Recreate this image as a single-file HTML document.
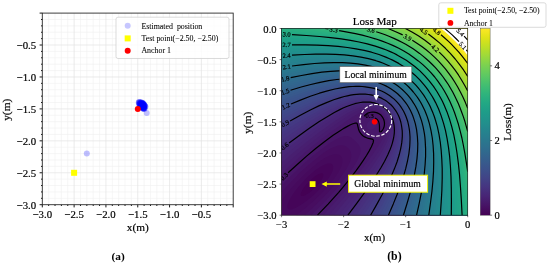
<!DOCTYPE html>
<html lang="en"><head><meta charset="utf-8"><title>Loss Map figure</title>
<style>html,body{margin:0;padding:0;background:#fff}body{width:550px;height:264px;overflow:hidden}svg{display:block}</style></head>
<body>
<svg width="550" height="264" viewBox="0 0 550 264" style="display:block">
<style>text{stroke:#000;stroke-width:0.18px}.lg text{stroke-width:0.06px}</style>
<rect x="0" y="0" width="550" height="264" fill="#ffffff"/>
<g id="left-plot">
<path d="M48.66,13.1V204.7M42.3,198.31H233.2M55.03,13.1V204.7M42.3,191.93H233.2M61.39,13.1V204.7M42.3,185.54H233.2M67.75,13.1V204.7M42.3,179.15H233.2M80.48,13.1V204.7M42.3,166.38H233.2M86.84,13.1V204.7M42.3,159.99H233.2M93.21,13.1V204.7M42.3,153.61H233.2M99.57,13.1V204.7M42.3,147.22H233.2M112.30,13.1V204.7M42.3,134.45H233.2M118.66,13.1V204.7M42.3,128.06H233.2M125.02,13.1V204.7M42.3,121.67H233.2M131.39,13.1V204.7M42.3,115.29H233.2M144.11,13.1V204.7M42.3,102.51H233.2M150.48,13.1V204.7M42.3,96.13H233.2M156.84,13.1V204.7M42.3,89.74H233.2M163.20,13.1V204.7M42.3,83.35H233.2M175.93,13.1V204.7M42.3,70.58H233.2M182.29,13.1V204.7M42.3,64.19H233.2M188.66,13.1V204.7M42.3,57.81H233.2M195.02,13.1V204.7M42.3,51.42H233.2M207.75,13.1V204.7M42.3,38.65H233.2M214.11,13.1V204.7M42.3,32.26H233.2M220.47,13.1V204.7M42.3,25.87H233.2M226.84,13.1V204.7M42.3,19.49H233.2" stroke="#f0f0f0" stroke-width="0.6" fill="none"/>
<path d="M74.12,13.1V204.7M42.3,172.77H233.2M105.93,13.1V204.7M42.3,140.83H233.2M137.75,13.1V204.7M42.3,108.90H233.2M169.57,13.1V204.7M42.3,76.97H233.2M201.38,13.1V204.7M42.3,45.03H233.2" stroke="#e2e2e2" stroke-width="0.7" fill="none"/>
<circle cx="86.8" cy="153.6" r="3" fill="#0000ff" fill-opacity="0.25"/>
<circle cx="146.7" cy="113.1" r="3" fill="#0000ff" fill-opacity="0.25"/>
<circle cx="145.1" cy="106.5" r="3" fill="#0000ff" fill-opacity="0.25"/>
<circle cx="141.5" cy="106.2" r="3" fill="#0000ff" fill-opacity="0.25"/>
<circle cx="138.7" cy="102.8" r="3" fill="#0000ff" fill-opacity="0.25"/>
<circle cx="140.0" cy="106.3" r="3" fill="#0000ff" fill-opacity="0.25"/>
<circle cx="142.3" cy="107.3" r="3" fill="#0000ff" fill-opacity="0.25"/>
<circle cx="143.1" cy="103.5" r="3" fill="#0000ff" fill-opacity="0.25"/>
<circle cx="141.3" cy="104.7" r="3" fill="#0000ff" fill-opacity="0.25"/>
<circle cx="141.9" cy="108.0" r="3" fill="#0000ff" fill-opacity="0.25"/>
<circle cx="141.7" cy="106.6" r="3" fill="#0000ff" fill-opacity="0.25"/>
<circle cx="144.5" cy="105.5" r="3" fill="#0000ff" fill-opacity="0.25"/>
<circle cx="141.5" cy="102.4" r="3" fill="#0000ff" fill-opacity="0.25"/>
<circle cx="141.9" cy="105.7" r="3" fill="#0000ff" fill-opacity="0.25"/>
<circle cx="139.5" cy="104.0" r="3" fill="#0000ff" fill-opacity="0.25"/>
<circle cx="143.6" cy="108.1" r="3" fill="#0000ff" fill-opacity="0.25"/>
<circle cx="140.3" cy="102.4" r="3" fill="#0000ff" fill-opacity="0.25"/>
<circle cx="142.7" cy="104.2" r="3" fill="#0000ff" fill-opacity="0.25"/>
<circle cx="139.7" cy="104.2" r="3" fill="#0000ff" fill-opacity="0.25"/>
<circle cx="144.1" cy="107.5" r="3" fill="#0000ff" fill-opacity="0.25"/>
<circle cx="141.3" cy="106.3" r="3" fill="#0000ff" fill-opacity="0.25"/>
<circle cx="142.6" cy="103.1" r="3" fill="#0000ff" fill-opacity="0.25"/>
<circle cx="142.8" cy="103.4" r="3" fill="#0000ff" fill-opacity="0.25"/>
<circle cx="141.6" cy="106.7" r="3" fill="#0000ff" fill-opacity="0.25"/>
<circle cx="144.3" cy="106.5" r="3" fill="#0000ff" fill-opacity="0.25"/>
<circle cx="143.2" cy="106.8" r="3" fill="#0000ff" fill-opacity="0.25"/>
<circle cx="140.6" cy="103.1" r="3" fill="#0000ff" fill-opacity="0.25"/>
<circle cx="140.0" cy="102.2" r="3" fill="#0000ff" fill-opacity="0.25"/>
<circle cx="142.6" cy="106.8" r="3" fill="#0000ff" fill-opacity="0.25"/>
<circle cx="143.1" cy="108.4" r="3" fill="#0000ff" fill-opacity="0.25"/>
<circle cx="142.3" cy="103.8" r="3" fill="#0000ff" fill-opacity="0.25"/>
<circle cx="141.9" cy="104.0" r="3" fill="#0000ff" fill-opacity="0.25"/>
<circle cx="144.2" cy="104.8" r="3" fill="#0000ff" fill-opacity="0.25"/>
<circle cx="143.1" cy="108.6" r="3" fill="#0000ff" fill-opacity="0.25"/>
<circle cx="144.6" cy="105.8" r="3" fill="#0000ff" fill-opacity="0.25"/>
<circle cx="141.6" cy="104.6" r="3" fill="#0000ff" fill-opacity="0.25"/>
<circle cx="143.4" cy="103.9" r="3" fill="#0000ff" fill-opacity="0.25"/>
<circle cx="140.5" cy="104.5" r="3" fill="#0000ff" fill-opacity="0.25"/>
<circle cx="144.3" cy="105.0" r="3" fill="#0000ff" fill-opacity="0.25"/>
<circle cx="144.4" cy="108.9" r="3" fill="#0000ff" fill-opacity="0.25"/>
<circle cx="143.2" cy="108.7" r="3" fill="#0000ff" fill-opacity="0.25"/>
<circle cx="140.1" cy="106.2" r="3" fill="#0000ff" fill-opacity="0.25"/>
<circle cx="145.5" cy="106.8" r="3" fill="#0000ff" fill-opacity="0.25"/>
<circle cx="139.7" cy="102.9" r="3" fill="#0000ff" fill-opacity="0.25"/>
<circle cx="140.4" cy="103.8" r="3" fill="#0000ff" fill-opacity="0.25"/>
<circle cx="141.2" cy="107.1" r="3" fill="#0000ff" fill-opacity="0.25"/>
<circle cx="143.8" cy="108.6" r="3" fill="#0000ff" fill-opacity="0.25"/>
<circle cx="140.3" cy="106.5" r="3" fill="#0000ff" fill-opacity="0.25"/>
<circle cx="142.4" cy="103.0" r="3" fill="#0000ff" fill-opacity="0.25"/>
<circle cx="144.6" cy="108.2" r="3" fill="#0000ff" fill-opacity="0.25"/>
<circle cx="142.3" cy="104.6" r="3" fill="#0000ff" fill-opacity="0.25"/>
<circle cx="144.0" cy="108.4" r="3" fill="#0000ff" fill-opacity="0.25"/>
<circle cx="143.7" cy="107.8" r="3" fill="#0000ff" fill-opacity="0.25"/>
<circle cx="143.5" cy="105.3" r="3" fill="#0000ff" fill-opacity="0.25"/>
<circle cx="142.7" cy="104.9" r="3" fill="#0000ff" fill-opacity="0.25"/>
<circle cx="139.2" cy="104.4" r="3" fill="#0000ff" fill-opacity="0.25"/>
<circle cx="144.0" cy="104.9" r="3" fill="#0000ff" fill-opacity="0.25"/>
<circle cx="140.6" cy="104.9" r="3" fill="#0000ff" fill-opacity="0.25"/>
<circle cx="142.1" cy="104.3" r="3" fill="#0000ff" fill-opacity="0.25"/>
<circle cx="141.9" cy="104.0" r="3" fill="#0000ff" fill-opacity="0.25"/>
<circle cx="142.0" cy="103.4" r="3" fill="#0000ff" fill-opacity="0.25"/>
<circle cx="141.4" cy="102.5" r="3" fill="#0000ff" fill-opacity="0.25"/>
<circle cx="142.8" cy="104.8" r="3" fill="#0000ff" fill-opacity="0.25"/>
<circle cx="141.7" cy="106.3" r="3" fill="#0000ff" fill-opacity="0.25"/>
<circle cx="140.6" cy="106.8" r="3" fill="#0000ff" fill-opacity="0.25"/>
<circle cx="139.1" cy="102.3" r="3" fill="#0000ff" fill-opacity="0.25"/>
<circle cx="143.0" cy="104.2" r="3" fill="#0000ff" fill-opacity="0.25"/>
<circle cx="139.0" cy="102.0" r="3" fill="#0000ff" fill-opacity="0.25"/>
<circle cx="142.3" cy="105.1" r="3" fill="#0000ff" fill-opacity="0.25"/>
<circle cx="143.7" cy="106.9" r="3" fill="#0000ff" fill-opacity="0.25"/>
<circle cx="142.5" cy="105.9" r="3" fill="#0000ff" fill-opacity="0.25"/>
<circle cx="142.1" cy="107.0" r="3" fill="#0000ff" fill-opacity="0.25"/>
<rect x="71.1" y="169.8" width="6" height="6" fill="#ffff00"/>
<circle cx="137.8" cy="108.9" r="3" fill="#ff0000"/>
<path d="M42.3,204.70h-2.7M42.30,204.7v2.7M42.3,198.31h-1.3M48.66,204.7v1.3M42.3,191.93h-1.3M55.03,204.7v1.3M42.3,185.54h-1.3M61.39,204.7v1.3M42.3,179.15h-1.3M67.75,204.7v1.3M42.3,172.77h-2.7M74.12,204.7v2.7M42.3,166.38h-1.3M80.48,204.7v1.3M42.3,159.99h-1.3M86.84,204.7v1.3M42.3,153.61h-1.3M93.21,204.7v1.3M42.3,147.22h-1.3M99.57,204.7v1.3M42.3,140.83h-2.7M105.93,204.7v2.7M42.3,134.45h-1.3M112.30,204.7v1.3M42.3,128.06h-1.3M118.66,204.7v1.3M42.3,121.67h-1.3M125.02,204.7v1.3M42.3,115.29h-1.3M131.39,204.7v1.3M42.3,108.90h-2.7M137.75,204.7v2.7M42.3,102.51h-1.3M144.11,204.7v1.3M42.3,96.13h-1.3M150.48,204.7v1.3M42.3,89.74h-1.3M156.84,204.7v1.3M42.3,83.35h-1.3M163.20,204.7v1.3M42.3,76.97h-2.7M169.57,204.7v2.7M42.3,70.58h-1.3M175.93,204.7v1.3M42.3,64.19h-1.3M182.29,204.7v1.3M42.3,57.81h-1.3M188.66,204.7v1.3M42.3,51.42h-1.3M195.02,204.7v1.3M42.3,45.03h-2.7M201.38,204.7v2.7M42.3,38.65h-1.3M207.75,204.7v1.3M42.3,32.26h-1.3M214.11,204.7v1.3M42.3,25.87h-1.3M220.47,204.7v1.3M42.3,19.49h-1.3M226.84,204.7v1.3M42.3,13.10h-2.7M233.20,204.7v2.7" stroke="#000" stroke-width="0.9" fill="none"/>
<rect x="42.3" y="13.1" width="190.9" height="191.6" fill="none" stroke="#2a2a2a" stroke-width="0.9"/>
<g font-family="'Liberation Serif','Times New Roman',serif" font-size="10.8" fill="#000">
<text x="42.3" y="217.7" text-anchor="middle">−3.0</text>
<text x="36.2" y="208.6" text-anchor="end">−3.0</text>
<text x="74.1" y="217.7" text-anchor="middle">−2.5</text>
<text x="36.2" y="176.7" text-anchor="end">−2.5</text>
<text x="105.9" y="217.7" text-anchor="middle">−2.0</text>
<text x="36.2" y="144.7" text-anchor="end">−2.0</text>
<text x="137.8" y="217.7" text-anchor="middle">−1.5</text>
<text x="36.2" y="112.8" text-anchor="end">−1.5</text>
<text x="169.6" y="217.7" text-anchor="middle">−1.0</text>
<text x="36.2" y="80.9" text-anchor="end">−1.0</text>
<text x="201.4" y="217.7" text-anchor="middle">−0.5</text>
<text x="36.2" y="48.9" text-anchor="end">−0.5</text>
</g>
<text x="137.8" y="231.3" text-anchor="middle" font-family="'Liberation Serif','Times New Roman',serif" font-size="11.3">x(m)</text>
<text transform="translate(9.6,109.8) rotate(-90)" text-anchor="middle" font-family="'Liberation Serif','Times New Roman',serif" font-size="11.3">y(m)</text>
<rect x="116" y="17.2" width="113" height="41.3" rx="2" ry="2" fill="#ffffff" fill-opacity="0.8" stroke="#cccccc" stroke-width="0.7"/>
<circle cx="127.7" cy="25.8" r="3" fill="#0000ff" fill-opacity="0.22"/>
<rect x="124.7" y="35.4" width="6" height="6" fill="#ffff00"/>
<circle cx="127.7" cy="50.7" r="3" fill="#ff0000"/>
<g font-family="'Liberation Serif','Times New Roman',serif" font-size="7.9" fill="#000" class="lg">
<text x="141.4" y="28.5" xml:space="preserve">Estimated  position</text>
<text x="141.4" y="41">Test point(−2.50, −2.50)</text>
<text x="141.4" y="53.4">Anchor 1</text>
</g>
</g>
<g id="right-plot">
<clipPath id="rc"><rect x="281.6" y="28.5" width="186.1" height="186.7"/></clipPath>
<g clip-path="url(#rc)">
<rect x="280.6" y="27.5" width="188.1" height="188.7" fill="#440154"/>
<path d="M281.6,215.2 467.7,215.2 467.7,28.5 281.6,28.5 281.6,215.2ZM302.1,196 301.5,195.9 300.8,195.2 300.7,194.7 300.7,194 301.3,192.2 302.2,190.3 303.4,188.4 304.7,186.6 306.8,184.1 308.5,182.2 310.8,180 313.2,177.8 315.1,176.3 317,175.1 318.8,174.1 320.7,173.4 321.9,173.3 322.6,173.5 323.2,174.1 323.3,174.7 323.3,175.4 323.1,176.6 322.3,178.5 321.2,180.3 319.9,182.2 317.9,184.7 315.7,187 313.2,189.4 310.8,191.5 308.9,192.9 307,194.1 305.2,195.2 303.3,195.9 302.1,196Z" fill="#450559" fill-rule="evenodd"/>
<path d="M281.6,215.2 467.7,215.2 467.7,28.5 281.6,28.5 281.6,215.2ZM289,209.2 288.4,209 287.8,208.3 287.5,207.7 287.4,206.5 287.5,205.2 287.8,204 288.5,202.1 289.3,200.3 290.3,198.4 291.8,195.9 294.8,191.6 298.2,187.2 302.6,182.2 307,177.6 311.4,173.6 315.7,170.1 319.4,167.4 323.2,165.3 325,164.4 326.3,164 328.1,163.5 329.4,163.4 330.5,163.5 331.2,163.8 331.9,164.2 332.5,164.8 332.9,165.4 333.2,166.7 333.2,167.9 333,169.1 332.7,170.4 332,172.3 331.1,174.1 330,176 327.5,179.7 324.6,183.5 320.8,187.8 316.3,192.4 311.4,196.9 306.4,201 302.1,204.1 297.7,206.8 295.9,207.8 294,208.6 292.1,209.2 290.9,209.4 289.7,209.4 289,209.2Z" fill="#460a5d" fill-rule="evenodd"/>
<path d="M296.2,215.2 467.7,215.2 467.7,28.5 359.8,28.5 281.6,28.5 281.6,200.6 286,194.7 290.6,189.1 295.5,183.5 300.8,177.9 305.9,172.9 311.4,168 316.3,163.9 321.3,160.3 325.6,157.6 329.4,155.8 332.5,154.7 334.3,154.3 335.6,154.2 336.8,154.3 338.1,154.5 339,154.8 340,155.5 340.7,156.1 341.6,157.3 342.1,158.6 342.3,159.8 342.4,161.7 341.9,164.2 341.1,166.7 339.7,169.8 337.9,172.9 335.5,176.6 332.7,180.3 329.7,184.1 326.3,188.1 322.5,192.2 318.2,196.5 313.9,200.7 309.5,204.6 305.2,208.3 300.8,211.7 296.2,215.2Z" fill="#470d60" fill-rule="evenodd"/>
<path d="M304.5,215.2 467.7,215.2 467.7,28.5 350.5,28.5 281.6,28.5 281.6,192.2 287.8,185.3 294.3,178.5 301.2,171.6 307.7,165.7 313.9,160.4 320.1,155.5 325.6,151.6 328.1,150.1 330.6,148.6 334.3,146.9 336.2,146.2 338.1,145.6 339.9,145.3 341.2,145.3 342.4,145.3 343.6,145.6 344.9,146 346.1,146.6 347.4,147.4 348.6,148.6 349.6,149.9 350.3,151.1 350.8,152.3 351.2,154.2 351.3,156.1 350.9,158.6 350.2,161.1 348.9,164.2 347.3,167.3 345,171 342.4,174.7 339.7,178.5 336.2,182.8 332.5,187.3 328.1,192.2 323.8,196.8 319.4,201.2 314.5,206.1 309.5,210.7 304.5,215.2Z" fill="#471164" fill-rule="evenodd"/>
<path d="M311.3,215.2 467.7,215.2 467.7,28.5 338.7,28.5 281.6,28.5 281.6,185.4 289.6,177.2 297.3,169.8 305.4,162.3 313.2,155.6 320.7,149.7 327.5,144.7 330.6,142.6 333.7,140.7 336.2,139.3 338.7,138 341.8,136.7 343.6,136.2 344.9,136 346.1,135.9 347.4,136 348.6,136.3 349.8,136.8 351.1,137.5 352.9,138.9 355.4,141.3 357.6,143.6 359.1,145.5 359.8,146.7 360.3,148 360.6,149.2 360.6,151.1 360.2,153.6 359.3,156.1 357.9,159.2 355.9,162.9 353.6,166.7 351,170.4 347.9,174.7 344.5,179.1 340.5,184.1 336.2,189.2 331.3,194.7 326.3,200.1 321.3,205.3 311.3,215.2Z" fill="#481668" fill-rule="evenodd"/>
<path d="M317.5,215.2 467.7,215.2 467.7,28.5 318.8,28.5 281.6,28.5 281.6,179.2 291.4,169.8 300.9,161.1 310.8,152.6 320.1,145 329.4,138 337.4,132.4 341.2,130 345.5,127.4 348.6,125.8 351.7,124.3 353.6,123.5 354.8,123.2 356,123 356.7,123.2 357.2,123.7 357.4,124.3 358.2,128.1 359,130.6 360,132.4 360.9,133.7 361.6,134.5 363.5,136.1 365.3,137.2 367.8,138.2 372.6,139.3 373.3,139.9 373.5,140.5 373.4,141.1 373.2,142.4 372.2,144.9 370.4,148.6 368.4,152.3 365.7,156.7 362.9,161.1 359.5,166 355.4,171.6 351.1,177.2 347.1,182.2 338.1,193 328.1,204.1 317.5,215.2ZM380.2,132 379.8,131.8 379.6,131.5 379.5,131.2 379.5,125.6 379.3,124.3 379.1,123.1 378.7,121.8 378.4,121.2 377.6,120 377,119.4 375.9,118.5 375.3,118.1 374,117.6 372.8,117.3 370.3,117 366,117 365,116.9 364.7,116.6 364.5,116.2 364.7,115.6 365.2,115 365.9,114.4 366.7,113.8 367.8,113.1 369.1,112.7 370.9,112.2 372.8,112 374.6,112.1 376.5,112.6 378.4,113.4 380,114.4 381.5,115.8 382.8,117.5 383.7,119.4 384.2,121.2 384.4,122.5 384.5,123.7 384.3,125.6 383.8,127.5 383.3,128.7 382.7,129.8 382.1,130.7 381.5,131.3 380.9,131.8 380.2,132Z" fill="#48186a" fill-rule="evenodd"/>
<path d="M323.3,215.2 467.7,215.2 467.7,28.5 299,28.5 281.6,28.5 281.6,173.4 291.6,164.2 302.2,154.8 312.7,146.1 322.8,138 333.6,129.9 344.2,122.5 353.6,116.2 356.7,114.4 360.3,112.5 363.2,111.3 365,110.6 367.2,110.1 369.1,109.8 371.5,109.7 373.4,109.9 375.3,110.2 377.1,110.8 379,111.7 380.9,112.9 382.1,113.9 383.6,115.6 384.8,117.5 385.7,119.4 386.3,121.2 386.6,123.1 386.7,124.3 386.7,126.2 386.4,128.9 385.8,131.5 384.6,134.9 382.7,138.7 380.9,141.9 377.8,146.8 372.8,154.2 367.2,162.1 361.6,169.7 356,177 350.5,184 344.3,191.6 337.4,199.5 330.6,207.2 323.3,215.2ZM368.7,129.3 369.7,129.7 370.3,129.8 370.9,129.8 372.2,129.6 373.4,129.1 374,128.6 374.7,128.1 375.7,126.8 376.1,126.2 376.6,125 376.8,123.7 376.8,122.5 376.6,121.8 376.3,121.2 375.8,120.6 375.3,120.2 374.8,120 374,119.7 372.8,119.7 371.5,119.9 370.9,120.1 370,120.6 369.1,121.2 368.4,121.8 367.5,123.1 367.1,123.7 366.7,125 366.7,126.2 366.8,126.8 367.3,128.1 367.8,128.7 368.7,129.3Z" fill="#481c6e" fill-rule="evenodd"/>
<path d="M328.8,215.2 467.7,215.2 467.7,28.5 300.8,28.5 281.6,28.5 281.6,167.9 292.9,157.9 304,148.6 315.5,139.3 326,131.2 336.3,123.7 345.5,117.5 351.7,113.8 355.3,111.9 358,110.6 361,109.5 363.5,108.8 366,108.3 368.4,108 370.9,107.9 373.4,108.2 375.9,108.8 377.8,109.4 380.1,110.6 381.9,111.9 383.3,113.2 384.9,115 386.1,116.9 387,118.7 387.7,120.6 388.3,123.1 388.5,126.2 388.4,129.3 387.8,132.4 386.9,135.5 385.8,138.6 384,142.5 381.5,147 378.4,152 374,158.5 369.1,165.5 362.9,173.9 356.7,182 349.8,190.5 343,198.7 336.2,206.7 328.8,215.2ZM373.4,123.1 374,123.2 374.6,122.9 374.9,122.5 375,121.8 374.6,121.5 374,121.6 373.6,121.8 373.3,122.5 373.4,123.1Z" fill="#481f70" fill-rule="evenodd"/>
<path d="M333.9,215.2 467.7,215.2 467.7,28.5 303.3,28.5 281.6,28.5 281.6,162.7 293.9,152.3 305.3,143 316.5,134.3 327.5,126.2 336.4,120 344.3,115 347.5,113.1 351.1,111.3 353.8,110 356.8,108.8 359.8,107.8 362.9,107 366,106.5 368.4,106.3 370.9,106.4 373.4,106.7 375.9,107.3 378.4,108.2 380.6,109.4 382.4,110.6 384,112 385.8,114.1 387.1,115.9 388.2,118.1 389.1,120.6 389.7,123.1 390.1,126.2 390.1,128.1 390,129.9 389.5,133.2 388.7,136.8 387.4,140.5 385.8,144.2 383.3,149.1 380.9,153.4 377.1,159.3 372.8,165.7 367.2,173.5 361.6,181 355.4,189 348.6,197.6 341.2,206.6 333.9,215.2Z" fill="#482374" fill-rule="evenodd"/>
<path d="M338.8,215.2 467.7,215.2 467.7,28.5 304.6,28.5 281.6,28.5 281.6,157.8 294.4,147.4 306.4,138 318,129.3 327.7,122.5 336.3,116.9 340.4,114.4 343.7,112.5 347.3,110.6 350.5,109.2 353.6,107.9 356.7,106.8 359.8,105.9 362.9,105.3 366,104.9 368.4,104.9 371.5,105 374,105.5 376.5,106.1 379,107.1 381.5,108.5 383.3,109.8 385.2,111.5 387.1,113.7 388.3,115.6 389.6,118.1 390.5,120.6 391.1,123.1 391.5,126.2 391.6,129.9 391.1,133.7 390.4,137.4 389.2,141.1 387.5,145.5 385.2,150.5 382.7,155.1 379.6,160.3 375.3,167.1 370.9,173.4 365.3,181.2 359.1,189.5 352.9,197.6 346.1,206.2 338.8,215.2Z" fill="#482576" fill-rule="evenodd"/>
<path d="M343.5,215.2 467.7,215.2 467.7,28.5 306.4,28.5 281.6,28.5 281.6,153.1 294.5,143 306.9,133.7 318.3,125.6 327.6,119.4 335.7,114.4 340.1,111.9 343.7,110 347.8,108.2 350.8,106.9 354.2,105.7 356.7,105 359.8,104.2 362.9,103.7 366,103.5 369.1,103.5 372.2,103.8 374.6,104.3 377.1,105 380,106.3 382.2,107.5 384.6,109.3 386.4,111.1 388.1,113.1 389.5,115.3 390.8,117.8 391.8,120.6 392.4,123.1 392.9,126.2 393,129.9 392.7,133.7 391.9,138 390.8,142.3 389.2,146.7 387.1,151.6 384.6,156.5 381.5,162 377.8,168.1 373.4,174.8 369.1,181.1 363.5,188.9 357.3,197.3 350.5,206.3 343.5,215.2Z" fill="#482979" fill-rule="evenodd"/>
<path d="M347.9,215.2 467.7,215.2 467.7,28.5 308.3,28.5 281.6,28.5 281.6,148.6 294.9,138.7 307,129.9 318,122.5 327.8,116.2 332.1,113.8 336.6,111.3 340.3,109.4 344.3,107.5 347.2,106.3 350.6,105 354.2,103.9 357,103.2 360.4,102.5 363.5,102.2 366.6,102 369.7,102.2 372.8,102.6 375.3,103.2 378.4,104.2 380.9,105.4 383.3,106.9 385.2,108.4 387.1,110.1 389.1,112.5 390.7,115 391.9,117.5 392.9,120 393.7,123.1 394.3,126.8 394.4,130.6 394.1,134.3 393.4,138.7 392.4,143 390.8,147.7 388.9,152.3 386.4,157.6 383.3,163.5 380.2,168.8 376.5,174.8 372.2,181.5 367.2,188.8 361,197.6 354.8,206.1 347.9,215.2Z" fill="#472d7b" fill-rule="evenodd"/>
<path d="M352.2,215.2 467.7,215.2 467.7,28.5 308.9,28.5 281.6,28.5 281.6,144.4 294.8,134.9 307.4,126.2 318,119.4 327.4,113.8 331.9,111.3 335.6,109.4 339.5,107.5 343.8,105.7 347,104.4 350.7,103.2 354.2,102.2 357.3,101.5 361,101 364.1,100.7 367.2,100.7 370.3,100.9 373.4,101.5 375.9,102.1 379,103.2 381.5,104.5 384,106 385.9,107.5 387.9,109.4 390,111.9 391.6,114.4 392.9,116.9 393.9,119.4 394.8,122.5 395.5,126.2 395.7,129.9 395.6,133.7 395.1,138 394.2,142.4 392.8,147.4 391,152.3 388.9,157.2 386.4,162.3 383.3,168.1 379.6,174.6 375.3,181.6 370.3,189.3 364.7,197.5 358.5,206.4 352.2,215.2Z" fill="#472f7d" fill-rule="evenodd"/>
<path d="M356.2,215.2 467.7,215.2 467.7,28.5 310.8,28.5 281.6,28.5 281.6,140.4 294.9,131.2 307.2,123.1 317.3,116.9 322.7,113.8 327.3,111.3 332.1,108.8 336,106.9 339.9,105.2 343.5,103.8 347,102.6 350.5,101.5 353.8,100.7 357.3,100 361,99.5 364.1,99.4 367.8,99.4 370.9,99.8 374,100.4 376.5,101.1 379.6,102.3 382.1,103.5 384.6,105.1 386.9,106.9 388.9,108.9 390.9,111.3 392.6,113.8 393.9,116.2 395.2,119.4 396.1,122.5 396.7,126.2 397.1,129.9 397,134.3 396.5,138.7 395.7,143 394.5,147.6 392.7,153 390.7,157.9 388.3,163.2 385.2,169.4 381.5,176.1 377.8,182.5 373.4,189.5 368.4,197.2 362.9,205.5 356.2,215.2Z" fill="#46337f" fill-rule="evenodd"/>
<path d="M360,215.2 467.7,215.2 467.7,28.5 312,28.5 281.6,28.5 281.6,136.5 295.3,127.5 307.3,120 318,113.8 322.5,111.3 327.4,108.8 331.3,106.9 335.6,105 339.9,103.2 343.6,101.9 347.4,100.7 351.1,99.7 354.8,98.9 357.9,98.5 361.6,98.1 364.7,98 368.4,98.2 371.5,98.6 374.6,99.3 377.8,100.3 380.9,101.6 383.3,103 385.8,104.7 388.3,106.7 390.3,108.8 392,111 393.8,113.8 395.1,116.2 396.1,118.7 397.1,121.8 397.9,125.6 398.3,129.9 398.3,134.3 398,138.7 397.3,143 396.1,148 394.5,153.1 392.6,158.2 390.2,164 387.7,169.3 384.6,175.3 380.9,182 376.5,189.4 371.5,197.5 366,206.2 360,215.2Z" fill="#453581" fill-rule="evenodd"/>
<path d="M363.7,215.2 467.7,215.2 467.7,28.5 313.2,28.5 281.6,28.5 281.6,132.8 295,124.3 307.6,116.9 317.8,111.3 322.6,108.8 327.5,106.4 332,104.4 336.6,102.6 340.5,101.1 344.3,99.9 348,98.9 351.7,98 355.4,97.3 358.5,97 362.2,96.7 365.3,96.7 369.1,97 372.2,97.5 375.3,98.3 378.4,99.3 381.5,100.7 384,102.1 386.4,103.8 388.9,105.9 391.2,108.2 393.1,110.6 394.7,113.1 396.3,116.2 397.4,118.7 398.3,121.8 399.1,125.6 399.6,129.9 399.7,134.3 399.4,138.7 398.7,143.6 397.6,148.5 396.1,153.6 394.4,158.6 392,164.6 389.5,170.2 386.4,176.5 383.3,182.4 379,190.2 374.6,197.6 369.7,205.7 363.7,215.2Z" fill="#443983" fill-rule="evenodd"/>
<path d="M367.2,215.2 467.7,215.2 467.7,28.5 314.5,28.5 281.6,28.5 281.6,129.3 292.9,122.5 302.6,116.9 311.7,111.9 320.3,107.5 328.5,103.8 335.6,101 342.4,98.7 346.1,97.7 349.2,97 352.3,96.4 355.4,95.9 358.5,95.6 361.6,95.4 364.7,95.4 367.2,95.6 370.3,96 372.8,96.4 375.3,97.1 377.8,97.9 380.1,98.8 382.1,99.8 384.6,101.2 386.4,102.4 388.3,103.9 390.3,105.7 392,107.5 393.5,109.4 395.1,111.7 396.3,113.8 397.6,116.2 398.6,118.7 399.3,121.2 400,123.7 400.4,126.2 400.8,129.3 401,131.8 401,134.9 400.8,138 400.5,141.1 400.1,144.3 399.5,147.3 398.7,150.5 397.7,154.2 395.4,161.1 392.6,168.1 388.9,176.3 384.6,185 379.6,194.2 374,203.9 367.2,215.2Z" fill="#443b84" fill-rule="evenodd"/>
<path d="M370.6,215.2 467.7,215.2 467.7,28.5 315.1,28.5 281.6,28.5 281.6,125.9 292.9,119.4 303.1,113.8 312.8,108.8 320.7,105 328.7,101.7 336.2,98.9 342.6,97 346.1,96.1 349.2,95.4 352.3,94.9 355.4,94.5 358.5,94.2 361.6,94.1 364.7,94.2 367.2,94.4 370.3,94.8 372.8,95.2 375.3,95.9 377.8,96.7 380.2,97.7 382.7,98.9 384.8,100.1 387.1,101.6 389.1,103.2 391.2,105 392.9,106.9 394.4,108.8 395.7,110.7 397.2,113.1 398.5,115.6 399.5,118.1 400.4,120.6 401,123.1 401.5,125.6 402,128.7 402.2,131.2 402.3,134.3 402.2,137.4 402,140.5 401.6,143.6 401.1,146.7 400.5,149.9 399.6,153.6 397.6,160.2 394.8,167.9 391.4,175.9 387.7,183.9 382.7,193.6 377.1,203.8 370.6,215.2Z" fill="#423f85" fill-rule="evenodd"/>
<path d="M373.8,215.2 467.7,215.2 467.7,28.5 315.7,28.5 281.6,28.5 281.6,122.7 293.2,116.2 302.8,111.3 311.7,106.9 320.7,102.9 328.7,99.7 336.2,97.1 343,95.2 346.3,94.5 349.8,93.8 353.6,93.3 356.7,93 359.8,92.8 362.9,92.8 366,93 368.4,93.3 371.5,93.8 374,94.4 376.5,95.1 379,95.9 381.5,97 384,98.3 386.4,99.8 388.3,101.2 390.2,102.7 392,104.4 393.8,106.3 395.3,108.2 396.6,110 398.1,112.5 399.4,115 400.5,117.5 401.3,120 402.1,122.5 402.6,125 403.1,128.1 403.4,130.6 403.6,133.7 403.6,136.8 403.4,139.9 403.1,143 402.6,146.7 401.9,150.3 401.2,153.6 399.3,160.4 396.8,167.9 393.6,176 389.5,185 385.2,194 380.2,203.5 373.8,215.2Z" fill="#424186" fill-rule="evenodd"/>
<path d="M377,215.2 467.7,215.2 467.7,28.5 316.3,28.5 281.6,28.5 281.6,119.5 292.6,113.8 302.6,108.8 312,104.4 320.8,100.7 328.7,97.7 336.2,95.4 343,93.6 346.7,92.9 349.8,92.3 353.6,91.9 356.7,91.6 359.8,91.5 362.9,91.6 366,91.8 368.4,92.1 371.5,92.6 374,93.2 376.5,93.9 379,94.8 381.5,95.8 384,97.1 386.4,98.5 388.6,100.1 390.8,101.8 392.6,103.5 394.5,105.5 396.1,107.5 397.6,109.6 399,111.9 400.3,114.4 401.4,116.9 402.3,119.4 403.1,121.8 403.7,124.3 404.3,127.5 404.6,129.9 404.8,133.1 404.9,136.2 404.8,139.3 404.6,142.4 404.1,146.1 403.7,149.2 402.9,153 401.2,159.8 398.8,167.5 395.7,175.9 392,184.7 387.7,194.2 382.7,204.2 377,215.2Z" fill="#404588" fill-rule="evenodd"/>
<path d="M380,215.2 467.7,215.2 467.7,28.5 317,28.5 281.6,28.5 281.6,116.5 292,111.3 302.5,106.3 312.5,101.9 320.7,98.7 328.7,95.9 336.2,93.7 339.9,92.7 343.6,91.9 346.8,91.4 350.5,90.8 354.2,90.5 357.3,90.3 360.4,90.2 363.5,90.3 366.6,90.6 369.1,90.9 372.2,91.5 374.6,92.1 377.1,92.9 379.6,93.8 382.1,94.9 384.6,96.2 386.9,97.6 388.9,99 391.1,100.7 393.3,102.7 395.1,104.6 397,106.9 398.3,108.8 399.9,111.3 401.2,113.8 402.3,116.2 403.3,118.7 404.1,121.2 404.7,123.7 405.4,126.8 405.7,129.3 406,132.4 406.1,135.5 406.1,138.7 406,141.8 405.6,145.5 405.2,148.6 404.6,152.3 403.1,159.2 401.9,163.4 400.8,167.3 398,175.4 394.5,184.2 390.2,194.2 385.2,204.7 380,215.2Z" fill="#3f4889" fill-rule="evenodd"/>
<path d="M382.9,215.2 467.7,215.2 467.7,28.5 317.6,28.5 281.6,28.5 281.6,113.6 293,108.2 302.7,103.8 311.7,100.1 320.7,96.7 328.7,94 336.2,92 343.6,90.4 347.4,89.8 350.5,89.4 354.2,89.1 357.3,89 360.4,89 363.5,89.1 366.6,89.4 369.7,89.9 372.8,90.5 375.3,91.1 377.8,91.9 380.2,92.9 382.7,94 385.2,95.3 387.7,96.8 389.7,98.2 392,100.1 394,101.9 395.8,103.8 397.6,106 399.2,108.2 400.7,110.6 402.1,113.1 403.3,115.6 404.2,118.1 405.1,120.6 405.8,123.1 406.4,126.2 406.9,129.3 407.2,132.4 407.4,135.5 407.4,138.7 407.3,141.8 407,145.5 406.7,148.6 406.1,152.3 405.4,156.1 404.6,159.8 402.6,167.3 400,175.4 396.5,184.7 392.6,194 388.3,203.8 382.9,215.2Z" fill="#3e4a89" fill-rule="evenodd"/>
<path d="M385.7,215.2 467.7,215.2 467.7,28.5 317.6,28.5 281.6,28.5 281.6,110.8 292.8,105.7 303.1,101.3 312.6,97.6 321.3,94.5 329.7,92 337.3,90.1 344.3,88.8 348,88.3 351.1,88 354.8,87.7 357.9,87.7 361,87.7 364.1,87.9 367.2,88.3 370.3,88.8 373.4,89.5 375.9,90.2 379,91.2 381.5,92.2 384,93.4 386.4,94.8 388.9,96.3 390.8,97.7 392.9,99.4 394.9,101.3 397,103.6 398.7,105.7 400.1,107.6 401.6,110 403,112.5 404.2,115 405.2,117.5 406.1,120 406.8,122.5 407.5,125.6 408,128.7 408.4,131.8 408.6,134.9 408.7,138 408.7,141.1 408.5,144.9 408.1,148.3 407.7,151.7 407.1,155.5 406.3,159.2 404.4,166.9 401.9,175.2 398.8,184.1 395.1,193.7 390.8,203.9 385.7,215.2Z" fill="#3d4e8a" fill-rule="evenodd"/>
<path d="M388.4,215.2 467.7,215.2 467.7,28.5 317,28.5 281.6,28.5 281.6,108.1 292.8,103.2 303.6,98.8 312.6,95.5 321.4,92.6 330,90.2 337.4,88.5 344.9,87.2 351.7,86.6 355.4,86.4 358.5,86.4 361.6,86.5 364.7,86.8 367.8,87.2 370.9,87.7 374,88.4 376.5,89.2 379.6,90.3 382.1,91.3 384.6,92.5 387.1,93.9 389.5,95.5 391.5,97 393.7,98.8 395.7,100.7 397.6,102.7 399.5,104.9 400.9,106.9 402.5,109.4 403.9,111.9 405.1,114.4 406.1,116.9 407.2,120 407.9,122.5 408.7,125.6 409.2,128.7 409.6,131.8 409.9,134.9 410,138 410,141.1 409.8,144.9 409.1,151.7 407.9,159.2 406.2,166.7 403.8,175.2 400.9,184.1 397.6,193.1 393.3,203.9 388.4,215.2Z" fill="#3c508b" fill-rule="evenodd"/>
<path d="M391.1,215.2 467.7,215.2 467.7,28.5 317,28.5 281.6,28.5 281.6,105.4 293,100.7 302.7,97 312.6,93.5 321.5,90.7 330,88.5 338.1,86.8 345.5,85.7 352.3,85.2 356,85.1 359.1,85.1 362.2,85.3 365.3,85.6 368.4,86.1 371.5,86.7 374.6,87.4 377.1,88.2 380.2,89.3 382.7,90.4 385.2,91.6 387.7,93 389.9,94.5 392,96 394.5,98.1 396.4,99.8 398.3,101.9 400.1,104 401.8,106.3 403.4,108.8 404.8,111.3 406,113.8 407.1,116.2 408.2,119.4 409,121.8 409.7,125 410.3,128.1 410.8,131.2 411.1,134.3 411.3,137.4 411.3,140.5 411.2,144.3 410.7,151.1 409.6,158.6 407.9,166.7 405.7,175.2 402.9,184.1 399.5,194 395.7,203.8 391.1,215.2Z" fill="#3a538b" fill-rule="evenodd"/>
<path d="M393.6,215.2 467.7,215.2 467.7,28.5 317,28.5 281.6,28.5 281.6,102.8 293.3,98.2 303.6,94.5 313.1,91.4 321.9,88.8 330.6,86.7 338.7,85.2 346.1,84.2 352.9,83.8 356.7,83.8 359.8,83.9 363.5,84.2 366.6,84.6 369.7,85.1 372.8,85.8 375.9,86.6 378.4,87.4 381.5,88.7 384,89.8 386.4,91.1 388.9,92.6 391.4,94.2 393.3,95.7 395.5,97.6 397.4,99.4 399.5,101.6 401.2,103.8 402.6,105.7 404.2,108.2 405.7,110.6 406.9,113.1 408,115.6 409.2,118.7 409.9,121.2 410.8,124.3 411.4,127.5 411.9,130.6 412.3,133.7 412.5,137.4 412.6,140.5 412.5,144.3 412.1,151.1 411.1,158.6 409.5,166.7 407.5,174.9 405,183.6 401.9,193.1 398.2,203.4 393.6,215.2Z" fill="#39558c" fill-rule="evenodd"/>
<path d="M396.1,215.2 467.7,215.2 467.7,28.5 317,28.5 281.6,28.5 281.6,100.3 292.8,96.1 303.3,92.5 312.9,89.5 322.1,87 330.6,85.1 338.7,83.7 346.1,82.9 352.9,82.5 356.7,82.5 359.8,82.6 363.5,83 366.6,83.4 369.7,83.9 372.8,84.6 375.9,85.5 378.4,86.3 381.5,87.5 384,88.6 386.4,89.9 388.9,91.3 391.4,93 393.4,94.5 395.7,96.3 397.7,98.2 399.5,100.1 401.3,102.2 403,104.4 404.7,106.9 406.2,109.4 407.5,111.9 408.7,114.4 409.9,117.5 410.7,120 411.6,123.1 412.3,126.2 412.9,129.3 413.3,132.4 413.7,136.2 413.8,139.3 413.9,143 413.8,146.7 413.5,150.5 412.7,157.9 411.3,166 409.4,174.5 406.9,183.8 403.9,193.4 400.3,204 396.1,215.2Z" fill="#38598c" fill-rule="evenodd"/>
<path d="M398.6,215.2 467.7,215.2 467.7,28.5 317,28.5 281.6,28.5 281.6,97.8 292.8,93.8 303.9,90.2 313.2,87.5 322.5,85.2 330.6,83.5 338.7,82.2 346.1,81.5 349.8,81.3 353.6,81.2 357.3,81.3 360.4,81.4 364.1,81.8 367.2,82.3 370.3,82.8 373.4,83.6 376.5,84.5 379,85.3 382.1,86.5 384.6,87.7 387.1,89 389.5,90.4 392,92.1 394.5,94 396.6,95.7 398.8,97.9 400.7,99.9 402.6,102.1 404.3,104.4 406,106.9 407.4,109.4 408.7,111.9 409.8,114.4 411.1,117.5 411.9,120 412.8,123.1 413.5,126.2 414.1,129.3 414.6,132.4 414.9,136.2 415.1,139.3 415.2,143 415.1,146.7 414.9,150.5 414.2,157.9 412.9,166 411.2,174.1 408.9,183.5 406.2,192.8 402.6,204 398.6,215.2Z" fill="#375b8d" fill-rule="evenodd"/>
<path d="M401,215.2 467.7,215.2 467.7,28.5 317,28.5 281.6,28.5 281.6,95.4 293.7,91.4 303.9,88.2 313.2,85.7 322.5,83.5 331.2,81.8 339.3,80.7 346.7,80.1 350.5,79.9 354.2,79.9 357.9,80 361,80.3 364.7,80.7 367.8,81.2 370.9,81.8 374,82.6 377.1,83.5 379.6,84.4 382.7,85.6 385.2,86.8 387.7,88.1 390.2,89.6 392.6,91.2 395.1,93.1 397.4,95.1 399.5,97 401.3,99 403.3,101.3 405.2,103.8 406.8,106.3 408.3,108.8 409.6,111.3 410.8,113.8 412,116.9 412.9,119.4 413.8,122.5 414.6,125.6 415.2,128.7 415.7,131.8 416.1,135.5 416.3,138.7 416.5,142.4 416.4,146.1 416.3,149.9 415.7,157.3 414.6,165.4 412.9,174.1 410.7,183.5 408.1,192.9 405,203.1 401,215.2Z" fill="#355e8d" fill-rule="evenodd"/>
<path d="M403.4,215.2 467.7,215.2 467.7,28.5 317,28.5 281.6,28.5 281.6,93.1 292.8,89.5 303.5,86.4 313.2,83.9 322.5,81.8 331.2,80.3 339.3,79.2 346.7,78.7 350.5,78.6 354.2,78.6 357.9,78.8 361,79 364.7,79.5 367.8,80 370.9,80.6 374,81.4 377.1,82.3 380.2,83.4 383.3,84.7 385.8,85.9 388.3,87.2 391,88.9 393.3,90.4 395.7,92.3 398.2,94.4 400.2,96.3 402,98.2 404.1,100.7 406,103.2 407.7,105.7 409.2,108.2 410.5,110.6 411.7,113.1 412.9,116.2 414,119.4 415,122.5 415.7,125.6 416.4,128.7 416.9,131.8 417.3,135.5 417.6,138.7 417.7,142.4 417.8,146.1 417.7,149.9 417.1,157.3 416.1,165.4 414.6,174.1 412.5,183.5 410,193.3 406.9,204 403.4,215.2Z" fill="#34618d" fill-rule="evenodd"/>
<path d="M405.7,215.2 467.7,215.2 467.7,28.5 316.3,28.5 281.6,28.5 281.6,90.7 293.4,87.2 303.9,84.3 313.9,81.9 323.2,80 331.8,78.6 339.9,77.8 347.4,77.3 351.1,77.3 354.8,77.4 358.5,77.6 361.6,77.9 365.3,78.4 368.4,78.9 371.5,79.6 374.6,80.4 377.8,81.4 380.9,82.5 384,83.8 386.4,85 388.9,86.4 391.4,87.9 393.9,89.5 396.4,91.4 398.5,93.2 400.7,95.3 402.6,97.2 404.5,99.4 406.4,101.9 408.1,104.4 409.7,106.9 411.4,110 412.6,112.5 413.9,115.6 415,118.7 416,121.8 416.8,125 417.5,128.1 418,131.2 418.5,134.9 418.8,138 419,141.8 419.1,145.5 419,149.2 418.6,156.7 417.7,164.8 416.3,173.5 414.5,182.8 412.1,192.8 409.2,203.4 405.7,215.2Z" fill="#33638d" fill-rule="evenodd"/>
<path d="M407.9,215.2 467.7,215.2 467.7,28.5 316.3,28.5 281.6,28.5 281.6,88.5 293.3,85.1 303.9,82.4 313.9,80.2 323.2,78.4 331.8,77.1 340.5,76.3 348,76 351.7,76 355.4,76.1 362.2,76.7 366,77.3 369.1,77.8 372.2,78.6 375.3,79.4 378.4,80.4 381.5,81.6 384.6,82.9 387.1,84.1 389.5,85.5 392,87 394.5,88.7 397,90.6 399.4,92.6 401.3,94.5 403.2,96.4 405.3,98.8 407.3,101.3 409,103.8 410.6,106.4 412.3,109.4 413.5,111.9 414.8,115 416,118.1 417,121.2 417.8,124.3 418.5,127.5 419.1,130.6 419.6,134.3 420.2,141.1 420.4,144.9 420.4,148.6 420.1,156.1 419.2,164.8 418,173.5 416.2,182.8 414,192.8 411.2,203.4 407.9,215.2Z" fill="#31668e" fill-rule="evenodd"/>
<path d="M410.1,215.2 467.7,215.2 467.7,28.5 316.3,28.5 281.6,28.5 281.6,86.2 292.8,83.2 303.9,80.5 313.9,78.4 323.2,76.8 331.8,75.6 340.5,74.9 348,74.7 355.4,74.9 359.1,75.2 362.9,75.6 366.6,76.2 369.7,76.8 372.8,77.5 375.9,78.4 379,79.4 382.1,80.6 385.2,82 387.7,83.2 390.2,84.6 393,86.4 395.1,87.8 397.6,89.7 400.1,91.8 402.2,93.8 404.4,96.2 406.2,98.2 408.1,100.7 409.8,103.2 411.4,105.7 413.1,108.8 414.4,111.3 415.7,114.4 416.9,117.5 417.9,120.6 418.8,123.7 419.6,126.8 420.2,129.9 420.8,133.7 421.4,140.5 421.6,144.3 421.7,148 421.5,155.5 420.8,164.2 419.6,172.9 418.1,182.1 416,192.2 413.3,203.4 410.1,215.2Z" fill="#31688e" fill-rule="evenodd"/>
<path d="M412.3,215.2 467.7,215.2 467.7,28.5 315.7,28.5 281.6,28.5 281.6,84 293.4,81.1 304.6,78.5 315.1,76.5 324.4,75 333.1,74 341.8,73.5 349.2,73.4 356.7,73.7 363.5,74.5 367.2,75.1 370.3,75.7 373.4,76.5 376.5,77.4 379.6,78.5 382.7,79.7 385.8,81.1 388.3,82.3 391,83.9 393.9,85.7 396.4,87.4 398.8,89.4 401.1,91.4 403.2,93.3 405,95.3 407,97.6 409,100.1 410.7,102.6 412.5,105.4 414,108.2 415.3,110.6 416.7,113.8 417.9,116.9 418.9,120 419.8,123.1 420.6,126.2 421.2,129.3 421.9,133.1 422.4,136.8 422.7,140.5 423,148 422.9,155.5 422.3,164.2 421.2,172.9 419.8,182.2 417.8,192.2 415.3,203.4 412.3,215.2Z" fill="#2f6b8e" fill-rule="evenodd"/>
<path d="M414.5,215.2 467.7,215.2 467.7,28.5 314.5,28.5 281.6,28.5 281.6,81.9 293.4,79.1 304.6,76.7 315.1,74.8 324.4,73.5 333.1,72.6 341.8,72.1 349.2,72.1 356.7,72.5 360.4,72.8 364.1,73.4 367.8,74 370.9,74.7 374,75.5 377.1,76.5 380.2,77.5 383.3,78.8 386.4,80.2 388.9,81.5 392,83.2 394.5,84.8 397,86.6 399.5,88.5 401.9,90.7 403.9,92.6 405.7,94.5 407.9,97 409.8,99.4 411.6,101.9 413.1,104.4 414.9,107.5 416.2,110.1 417.6,113.1 418.8,116.2 419.9,119.4 420.8,122.5 421.6,125.6 422.3,128.7 423,132.4 423.5,136.2 423.9,139.9 424.3,147.4 424.3,154.8 423.8,163.5 422.9,172.3 421.5,181.6 419.6,192.2 417.3,203.4 414.5,215.2Z" fill="#2e6d8e" fill-rule="evenodd"/>
<path d="M416.6,215.2 467.7,215.2 467.7,28.5 313.9,28.5 281.6,28.5 281.6,79.8 293.8,77 304.6,74.9 314.5,73.2 324.4,71.9 333.1,71.1 341.8,70.7 349.8,70.8 357.3,71.3 361,71.7 364.7,72.3 368.4,73 371.5,73.7 374.6,74.5 377.8,75.5 380.9,76.6 384,77.9 387.1,79.3 389.5,80.6 392.6,82.4 395.1,84 397.6,85.7 400,87.6 402.2,89.5 404.4,91.6 406.6,93.8 408.7,96.3 410.7,98.8 412.4,101.3 414,103.8 415.8,106.9 417.1,109.4 418.5,112.5 419.8,115.6 420.9,118.7 421.8,121.8 422.7,125 423.4,128.1 424.1,131.8 424.6,135.5 425.1,139.3 425.6,146.7 425.6,154.8 425.2,163.5 424.4,172.3 423.1,182.2 421.4,192.2 419.3,203 416.6,215.2Z" fill="#2d708e" fill-rule="evenodd"/>
<path d="M418.7,215.2 467.7,215.2 467.7,28.5 313.2,28.5 281.6,28.5 281.6,77.7 295.9,74.7 308.3,72.5 320.1,70.9 325.6,70.3 331.2,69.8 336.2,69.5 341.2,69.4 346.1,69.4 350.5,69.5 354.8,69.8 359.1,70.2 363.5,70.8 367.8,71.6 372.2,72.7 375.9,73.7 379.6,74.9 383.3,76.4 387.1,78.1 390.2,79.7 393.3,81.5 396.4,83.5 399.5,85.8 402.4,88.2 405,90.7 407.5,93.3 410,96.3 412,98.8 414.1,101.9 416.2,105.4 418.6,110 420.7,115 422.4,120 424,125.6 425.2,131.2 426.1,137.4 426.7,143.6 426.9,149.9 426.9,156.7 426.6,163.5 426.1,171 425.2,178.5 424,187.2 422.6,195.9 420.8,205.2 418.7,215.2Z" fill="#2c728e" fill-rule="evenodd"/>
<path d="M420.8,215.2 467.7,215.2 467.7,28.5 313.2,28.5 281.6,28.5 281.6,75.6 295.9,72.8 308.3,70.8 320.1,69.3 325.6,68.8 331.2,68.4 336.2,68.1 341.2,68 346.1,68.1 350.5,68.2 354.8,68.5 359.1,69 363.5,69.6 367.8,70.5 372.2,71.5 375.9,72.5 379.6,73.8 383.3,75.2 387.1,76.9 390.2,78.5 393.9,80.6 397,82.6 400.1,85 402.6,87 405.3,89.5 408.1,92.5 410.6,95.3 412.8,98.2 415,101.3 416.9,104.4 419.2,108.8 421.4,113.8 423.2,118.7 424.9,124.3 426.1,129.9 427.2,136.2 427.8,142.4 428.2,148.6 428.3,155.5 428.1,162.3 427.7,169.8 426.9,177.9 425.8,186.6 424.5,195.3 422.8,204.6 420.8,215.2Z" fill="#2b748e" fill-rule="evenodd"/>
<path d="M422.8,215.2 467.7,215.2 467.7,28.5 312.6,28.5 281.6,28.5 281.6,73.5 295.9,71 308.9,69 320.7,67.7 326.3,67.2 331.8,66.9 336.8,66.7 341.8,66.7 346.7,66.8 351.1,67 355.4,67.4 359.8,67.9 364.1,68.5 368.4,69.4 372.8,70.5 376.5,71.5 380.2,72.8 384,74.3 387.7,76 390.8,77.6 393.9,79.4 397,81.4 400.1,83.6 403.2,86.2 406.1,88.9 408.6,91.4 410.8,93.8 413.2,97 415.4,100.1 417.4,103.2 420.1,108.2 422.3,113.1 424.2,118.1 425.9,123.7 427.2,129.3 428.3,135.5 429,141.8 429.5,148 429.7,154.8 429.5,162.3 429.2,169.8 428.5,177.9 427.5,186.6 426.2,195.3 424.7,204.6 422.8,215.2Z" fill="#2a778e" fill-rule="evenodd"/>
<path d="M424.8,215.2 467.7,215.2 467.7,28.5 312,28.5 281.6,28.5 281.6,71.5 295.9,69.1 308.9,67.4 320.7,66.1 326.3,65.7 331.8,65.5 336.8,65.3 341.8,65.3 346.7,65.5 351.1,65.7 355.4,66.1 359.8,66.6 364.1,67.3 368.4,68.2 372.8,69.3 376.5,70.4 380.2,71.6 384,73.1 387.7,74.8 390.9,76.4 394.5,78.5 397.6,80.5 400.7,82.8 403.6,85.1 406.3,87.5 408.8,90.1 411.2,92.8 413.7,95.9 415.9,98.8 418.1,102.3 420.7,106.9 423,111.9 424.9,116.9 426.7,122.5 428.1,128.1 429.3,134.3 430.1,140.5 430.7,147.4 431,154.2 431,161.7 430.7,169.1 430.1,177.2 429.2,186 428,195.3 426.6,204.6 424.8,215.2Z" fill="#29798e" fill-rule="evenodd"/>
<path d="M426.8,215.2 467.7,215.2 467.7,28.5 310.8,28.5 281.6,28.5 281.6,69.5 295.9,67.3 308.9,65.7 320.7,64.6 326.3,64.3 331.8,64 337.4,63.9 342.4,64 347.4,64.2 351.7,64.5 356,64.9 360.4,65.5 364.7,66.2 369.1,67.2 373.4,68.3 377.1,69.4 380.9,70.7 384.6,72.2 388.3,73.9 391.4,75.5 395.1,77.6 398.2,79.6 401.3,81.9 404.4,84.4 407.2,87 409.7,89.5 411.9,92 414.5,95.1 416.7,98.2 418.7,101.2 421.6,106.3 423.9,111.3 425.9,116.2 427.7,121.8 429.2,127.5 430.4,133.7 431.3,139.9 432,146.7 432.3,153.6 432.4,161.1 432.1,168.5 431.7,176.6 430.9,185.3 429.8,194.7 428.5,204.6 426.8,215.2Z" fill="#287c8e" fill-rule="evenodd"/>
<path d="M428.8,215.2 467.7,215.2 467.7,28.5 310.1,28.5 281.6,28.5 281.6,67.5 295.9,65.5 308.9,64 320.7,63.1 326.3,62.8 331.8,62.6 337.4,62.6 342.4,62.7 347.4,62.9 351.7,63.2 356,63.7 360.4,64.3 364.7,65 369.1,66 373.4,67.1 377.1,68.2 380.9,69.5 384.6,71 388.3,72.6 391.4,74.2 395.1,76.4 398.2,78.3 401.3,80.6 404.4,83 407.5,85.8 410,88.2 412.5,91 414.8,93.8 417.2,97 419.2,100.1 422.1,105 424.6,110 426.6,115 428.5,120.6 430.2,126.8 431.5,133.1 432.5,139.3 433.2,146.1 433.6,153 433.7,160.4 433.6,168.5 433.2,176.6 432.5,185.3 431.5,194.7 430.3,204.6 428.8,215.2Z" fill="#277e8e" fill-rule="evenodd"/>
<path d="M430.7,215.2 467.7,215.2 467.7,28.5 309.5,28.5 281.6,28.5 281.6,65.6 296.5,63.7 309.5,62.3 321.3,61.5 332.5,61.2 338.1,61.2 343,61.4 348,61.7 352.3,62 356.7,62.5 361,63.2 365.3,64 369.7,64.9 374,66.1 377.8,67.2 381.5,68.5 385.2,70 388.9,71.7 392,73.3 395.7,75.5 398.8,77.5 401.9,79.7 404.9,82 407.5,84.4 410.3,87 412.6,89.5 415.2,92.6 417.6,95.7 419.7,98.8 422.7,103.8 425.2,108.8 427.3,113.8 429.3,119.4 431.1,125.6 432.5,131.8 433.5,138 434.3,144.9 434.8,151.7 435.1,159.2 435.1,167.3 434.8,175.4 434.2,184.2 433.3,194 432.2,204 430.7,215.2Z" fill="#26818e" fill-rule="evenodd"/>
<path d="M432.7,215.2 467.7,215.2 467.7,28.5 308.9,28.5 281.6,28.5 281.6,63.6 296.5,61.9 309.5,60.7 321.3,60 332.5,59.8 338.1,59.9 343,60.1 348,60.4 352.3,60.8 356.7,61.3 361,61.9 365.3,62.8 369.7,63.7 374,64.9 377.8,66 381.5,67.3 385.2,68.8 388.9,70.5 392,72.1 395.7,74.2 398.8,76.2 401.9,78.4 405,80.8 407.9,83.3 410.5,85.8 413.1,88.5 415.6,91.4 418,94.5 420.2,97.6 423.2,102.6 425.8,107.5 428.3,113.1 430.3,118.7 432,124.3 433.4,130.6 434.7,137.4 435.5,144.3 436.1,151.7 436.4,159.2 436.5,167.3 436.3,175.4 435.8,184.1 435,194 434,204 432.7,215.2Z" fill="#26828e" fill-rule="evenodd"/>
<path d="M434.6,215.2 467.7,215.2 467.7,28.5 308.3,28.5 281.6,28.5 281.6,61.7 296.5,60.2 309.5,59.1 321.9,58.5 333.1,58.4 338.7,58.5 343.6,58.8 348.6,59.1 352.9,59.6 357.3,60.1 361.6,60.8 366,61.7 370.3,62.7 374.6,63.9 378.4,65 382.1,66.4 385.8,67.9 389.5,69.6 392.6,71.2 396.3,73.3 399.5,75.3 402.6,77.5 405.7,79.9 408.8,82.6 411.2,85 413.8,87.6 416.2,90.5 418.4,93.2 420.6,96.3 423.7,101.3 426.4,106.3 428.9,111.9 431.1,117.5 433,123.7 434.5,129.9 435.7,136.2 436.6,143 437.4,150.5 437.8,157.9 437.9,166 437.8,174.1 437.4,183.5 436.7,193.4 435.8,204 434.6,215.2Z" fill="#25858e" fill-rule="evenodd"/>
<path d="M436.5,215.2 467.7,215.2 467.7,28.5 306.4,28.5 281.6,28.5 281.6,59.8 296.5,58.4 309.5,57.5 321.9,57 333.1,57 338.7,57.2 343.6,57.5 348.6,57.9 352.9,58.3 357.3,58.9 361.6,59.6 366,60.5 370.3,61.5 374.6,62.7 378.4,63.9 382.1,65.2 385.8,66.7 389.4,68.3 392.6,70 396.3,72.1 399.5,74 402.6,76.2 405.7,78.5 408.3,80.8 411.2,83.5 413.7,86 416.3,88.9 418.8,92 421.1,95.1 424.3,100.1 427,105 429.6,110.6 431.8,116.2 433.8,122.5 435.4,128.7 436.8,135.5 437.8,142.4 438.6,149.9 439.1,157.3 439.3,165.4 439.3,174.1 439,183.5 438.4,193.4 437.6,204 436.5,215.2Z" fill="#23888e" fill-rule="evenodd"/>
<path d="M438.4,215.2 467.7,215.2 467.7,28.5 305.8,28.5 281.6,28.5 281.6,57.9 296.5,56.7 309.5,55.9 321.9,55.6 333.1,55.6 338.7,55.8 343.6,56.2 352.9,57.1 357.3,57.7 361.6,58.4 366,59.3 370.3,60.3 374.6,61.5 378.4,62.7 382.1,64 385.8,65.5 389.5,67.2 392.6,68.7 396.4,70.8 399.5,72.7 402.6,74.8 405.7,77.2 408.5,79.5 411.3,82 413.8,84.5 416.6,87.6 419.2,90.7 421.5,93.8 424.8,98.8 427.6,103.8 430.3,109.4 432.5,115 434.6,121.2 436.3,127.5 437.8,134.3 438.9,141.1 439.8,148.6 440.3,156.1 440.7,164.8 440.7,173.5 440.5,182.8 440.1,192.8 439.4,203.4 438.4,215.2Z" fill="#238a8d" fill-rule="evenodd"/>
<path d="M440.3,215.2 467.7,215.2 467.7,28.5 305.2,28.5 281.6,28.5 281.6,56 296.5,55 310.1,54.3 322.5,54.1 333.7,54.3 339.3,54.5 344.3,54.9 353.6,55.9 357.9,56.5 362.2,57.3 366.6,58.2 370.9,59.3 375.3,60.5 379,61.7 382.7,63 386.4,64.6 390.2,66.3 393.3,67.8 397,69.9 400.1,71.9 403.2,74 406.3,76.3 409.4,78.9 411.9,81.1 414.4,83.6 416.9,86.4 419.6,89.5 421.9,92.6 425.3,97.6 428.5,103.2 431.2,108.8 433.5,114.4 435.6,120.6 437.4,126.8 438.9,133.7 440,140.5 441,148 441.6,155.5 442,164.2 442.2,172.9 442.1,182.2 441.8,192.2 441.1,203.4 440.3,215.2Z" fill="#228d8d" fill-rule="evenodd"/>
<path d="M442.1,215.2 467.7,215.2 467.7,28.5 303.3,28.5 281.6,28.5 281.6,54.2 296.5,53.2 310.1,52.7 322.5,52.6 333.7,52.9 344.3,53.6 353.6,54.6 357.9,55.3 362.2,56.1 366.6,57 370.9,58.1 375.3,59.3 379,60.5 382.7,61.8 386.4,63.4 390.2,65 393.9,66.9 397,68.7 400.5,70.8 403.8,73.1 406.6,75.2 409.6,77.7 412.4,80.2 415,82.7 417.5,85.3 419.9,88.2 422.3,91.4 425.8,96.3 429.1,101.9 431.9,107.5 434.2,113.1 436.4,119.4 438.2,125.6 439.8,132.4 441.1,139.3 442.1,146.7 442.8,154.2 443.4,162.9 443.6,171.6 443.6,181 443.4,191.6 442.9,202.8 442.1,215.2Z" fill="#218f8d" fill-rule="evenodd"/>
<path d="M444,215.2 467.7,215.2 467.7,28.5 302.7,28.5 281.6,28.5 281.6,52.3 296.5,51.5 310.1,51.2 322.5,51.2 333.7,51.5 344.3,52.3 353.6,53.4 362.2,54.9 366.6,55.8 370.9,56.9 375.3,58.1 379,59.3 383.3,60.9 387.1,62.4 390.8,64.1 393.9,65.7 397.5,67.7 400.7,69.7 403.8,71.8 406.9,74.1 409.8,76.4 412.6,78.9 415.6,81.8 418.1,84.4 420.6,87.3 422.8,90.1 426.3,95.1 429.6,100.7 432.5,106.3 434.9,111.9 437.2,118.1 439.1,124.3 440.8,131.2 442.2,138.7 443.3,146.1 444.1,154.2 444.7,162.9 445.1,171.6 445.2,181 445,191.6 444.6,202.8 444,215.2Z" fill="#20928c" fill-rule="evenodd"/>
<path d="M445.8,215.2 467.7,215.2 467.7,28.5 300.8,28.5 281.6,28.5 281.6,50.4 297.1,49.8 310.8,49.6 323.2,49.7 334.3,50.2 344.9,51.1 354.2,52.2 362.9,53.8 367.2,54.7 371.5,55.8 375.9,57.1 379.6,58.3 383.3,59.7 387.1,61.2 390.8,62.9 393.9,64.5 397.5,66.5 400.7,68.4 403.8,70.5 406.9,72.7 410,75.2 412.9,77.7 415.5,80.2 418.1,82.8 420.6,85.8 423,88.7 426.7,93.8 429.9,98.9 432.8,104.4 435.6,110.6 438,116.9 439.9,123.1 441.7,129.9 443.2,137.4 444.4,144.9 445.3,153 446,161.7 446.4,170.4 446.7,180.3 446.6,190.9 446.3,202.8 445.8,215.2Z" fill="#20938c" fill-rule="evenodd"/>
<path d="M447.7,215.2 467.7,215.2 467.7,28.5 300.2,28.5 281.6,28.5 281.6,48.6 297.1,48.2 310.8,48.1 323.2,48.3 334.3,48.8 344.9,49.8 354.2,51 362.9,52.6 367.2,53.5 371.5,54.6 375.9,55.9 379.6,57.1 384,58.7 387.6,60.2 391.4,62 394.5,63.5 398.2,65.6 401.3,67.5 404.4,69.6 407.5,71.8 410.2,73.9 413.1,76.4 415.7,78.9 418.7,81.9 421.2,84.7 423.6,87.6 427.2,92.6 430.5,97.8 433.4,103.2 436.3,109.4 438.7,115.6 440.8,121.8 442.6,128.7 444.2,136.2 445.5,143.6 446.5,151.7 447.3,160.4 447.8,169.8 448.1,179.7 448.2,190.3 448.1,202.1 447.7,215.2Z" fill="#1f968b" fill-rule="evenodd"/>
<path d="M449.5,215.2 467.7,215.2 467.7,28.5 298.3,28.5 281.6,28.5 281.6,46.8 297.1,46.5 310.8,46.5 323.2,46.8 334.3,47.5 344.9,48.5 354.2,49.7 362.9,51.3 367.2,52.3 371.5,53.4 375.9,54.7 379.6,55.9 383.3,57.3 387.1,58.8 390.8,60.5 393.9,62 397.6,64 400.7,65.8 403.8,67.8 407.2,70.2 410,72.4 413.1,75 416,77.7 418.5,80.2 421.2,83.1 423.4,85.8 427.2,90.7 430.9,96.3 434,101.9 436.7,107.5 439.2,113.8 441.6,120.6 443.5,127.5 445.2,134.9 446.6,143 447.7,151.1 448.6,159.8 449.2,169.1 449.6,179.1 449.8,190.3 449.8,202.1 449.5,215.2Z" fill="#1f988b" fill-rule="evenodd"/>
<path d="M451.3,215.2 467.7,215.2 467.7,28.5 297.7,28.5 281.6,28.5 281.6,44.9 297.1,44.8 310.8,45 323.2,45.4 334.9,46.2 345.5,47.2 354.8,48.6 363.5,50.3 367.8,51.3 372.2,52.4 376.5,53.7 380.2,54.9 384,56.3 387.7,57.8 391.4,59.5 394.5,61.1 398.2,63.1 401.3,64.9 404.4,66.9 407.5,69.1 410.6,71.5 413.5,73.9 416.2,76.4 418.8,78.9 421.2,81.5 423.8,84.5 427.7,89.5 431.4,95.1 434.6,100.7 437.6,106.9 440.2,113.1 442.6,120 444.5,126.8 446.3,134.3 447.8,142.4 448.9,150.5 449.9,159.2 450.6,168.5 451.1,178.5 451.4,189.7 451.4,202.1 451.3,215.2Z" fill="#1e9b8a" fill-rule="evenodd"/>
<path d="M453.1,215.2 467.7,215.2 467.7,28.5 295.9,28.5 281.6,28.5 281.6,43.1 297.1,43.1 310.8,43.4 323.2,44 334.9,44.8 345.5,46 354.8,47.3 363.5,49 367.8,50.1 372.2,51.2 376.5,52.5 380.2,53.7 384,55.1 387.7,56.6 391.4,58.3 394.5,59.8 398.2,61.8 401.3,63.6 404.4,65.6 407.5,67.8 410.6,70.1 413.7,72.7 416.5,75.2 419.1,77.7 421.8,80.5 424.2,83.3 428.1,88.2 431.9,93.8 435.2,99.4 438.3,105.7 440.9,111.9 443.4,118.7 445.4,125.6 447.2,133.1 448.8,141.1 450.1,149.2 451.1,157.9 451.9,167.3 452.5,177.9 452.9,189.1 453.1,201.5 453.1,215.2Z" fill="#1f9e89" fill-rule="evenodd"/>
<path d="M454.9,215.2 467.7,215.2 467.7,28.5 294,28.5 281.6,28.5 281.6,41.3 297.1,41.5 311.4,41.9 323.8,42.6 334.9,43.5 345.5,44.7 354.8,46.1 363.5,47.8 367.8,48.8 372.2,50 376.5,51.3 380.2,52.5 384,53.9 387.7,55.4 391.4,57.1 394.5,58.6 398.2,60.6 401.3,62.4 404.4,64.3 407.6,66.5 410.6,68.7 413.7,71.3 416.8,73.9 419.3,76.4 421.8,78.9 424.3,81.7 428.1,86.4 432,92 435.4,97.6 438.6,103.8 441.4,110 444,116.9 446.3,124.3 448.2,131.8 449.8,139.9 451.2,148 452.3,156.7 453.2,166.7 453.9,177.2 454.4,188.4 454.8,200.9 454.9,215.2Z" fill="#1fa088" fill-rule="evenodd"/>
<path d="M456.7,215.2 467.7,215.2 467.7,28.5 292.1,28.5 281.6,28.5 281.6,39.5 297.1,39.8 311.4,40.4 323.8,41.1 334.9,42.1 345.5,43.4 354.8,44.8 363.5,46.6 367.8,47.6 372.2,48.8 376.5,50.1 380.2,51.3 384,52.7 387.7,54.2 391.4,55.8 394.5,57.3 398.2,59.3 401.3,61.1 404.4,63 407.7,65.2 410.6,67.4 413.7,69.8 416.8,72.5 419.3,74.9 421.8,77.4 424.4,80.2 428.5,85.1 432.5,90.7 435.9,96.3 439.3,102.6 442.1,108.8 444.7,115.6 447.1,123.1 449.1,130.6 450.8,138.7 452.2,146.7 453.5,156.1 454.5,166 455.4,176.6 456,188.4 456.4,200.9 456.7,215.2Z" fill="#1fa287" fill-rule="evenodd"/>
<path d="M458.5,215.2 467.7,215.2 467.7,28.5 290.3,28.5 281.6,28.5 281.6,37.7 297.1,38.2 311.4,38.9 323.8,39.7 335.6,40.8 346.1,42.2 355.4,43.7 364.1,45.5 368.4,46.6 372.8,47.8 377.1,49.1 380.9,50.3 384.6,51.7 388.3,53.2 392,54.9 395.1,56.4 398.8,58.4 401.9,60.2 405,62.1 408.1,64.2 411.2,66.5 414.4,68.9 417.2,71.4 419.9,73.9 422.4,76.4 424.7,78.9 428.9,83.9 433,89.5 436.5,95.1 439.9,101.3 442.8,107.5 445.5,114.4 448,121.8 450,129.3 451.8,137.4 453.3,145.5 454.7,154.8 455.8,164.8 456.7,175.4 457.5,187.2 458.1,200.3 458.5,215.2Z" fill="#20a486" fill-rule="evenodd"/>
<path d="M460.3,215.2 467.7,215.2 467.7,28.5 288.4,28.5 281.6,28.5 281.6,35.9 299.6,36.7 315.7,37.6 329.4,38.8 341.8,40.3 352.9,42 358.5,43.1 363.5,44.1 368.4,45.4 372.8,46.6 377.1,47.9 381.5,49.4 387.7,51.8 393.9,54.6 399.5,57.5 405.1,60.9 410.6,64.6 415.3,68.3 419.9,72.4 424.5,77 428.8,82 431.1,85 433,87.6 436.7,93.2 440.2,99.4 441.7,102.6 443.4,106.3 446.2,113.1 448.8,120.6 450.9,128.1 452.8,136.2 454.4,144.3 455.8,153.6 457,163.5 458.1,174.7 459,186.6 459.7,200.3 460.3,215.2Z" fill="#22a785" fill-rule="evenodd"/>
<path d="M462.1,215.2 467.7,215.2 467.7,28.5 287.2,28.5 281.6,28.5 281.6,34.1 299,35 314.5,36.1 328.1,37.3 340.5,38.8 351.7,40.5 361.6,42.5 366.6,43.7 370.9,44.8 375.3,46.1 379.6,47.5 386.4,50 392.6,52.7 398.8,55.9 404.4,59.1 409.8,62.7 415,66.6 419.9,70.9 424.8,75.8 429.2,80.8 433.5,86.4 437.2,92 440.8,98.2 442.4,101.3 444.1,105 447,111.9 449.6,119.4 451.8,126.8 453.8,134.9 455.5,143.6 457,153 458.3,162.9 459.5,174.1 460.4,186 461.3,199.6 462.1,215.2Z" fill="#23a983" fill-rule="evenodd"/>
<path d="M463.9,215.2 467.7,215.2 467.7,28.5 285.3,28.5 281.6,28.5 281.6,32.3 299,33.4 313.9,34.5 327.5,35.8 339.3,37.3 349.8,38.9 359.8,40.8 369.1,43.1 373.4,44.3 377.8,45.7 384.6,48.1 391.4,50.9 397.6,53.9 403.8,57.4 409.4,61.1 415,65.2 420.1,69.6 424.9,74.3 427.4,77 429.6,79.5 431.7,82.2 433.9,85.1 437.7,90.7 441.3,97 443,100.1 444.8,103.8 447.7,110.6 450.4,118.1 452.7,125.6 454.7,133.7 456.5,142.4 458.1,151.7 459.5,161.7 460.8,172.9 461.9,185.3 462.9,199 463.9,215.2Z" fill="#25ac82" fill-rule="evenodd"/>
<path d="M465.6,215.2 467.7,215.2 467.7,28.5 283.5,28.5 281.6,28.5 281.6,30.6 298.3,31.7 313.2,33 326.3,34.3 338.1,35.8 348.6,37.4 358.5,39.3 367.2,41.4 375.9,43.9 383.3,46.4 390.2,49.2 397,52.4 403.2,55.8 406.3,57.7 409.4,59.7 415,63.8 419.9,68 424.9,72.7 427.4,75.3 429.9,78.2 434.2,83.7 438.2,89.5 441.9,95.7 443.6,98.8 445.4,102.6 448.4,109.4 451.2,116.9 453.5,124.3 455.6,132.4 457.5,141.1 459.2,150.5 460.8,161.1 462.1,172.3 463.4,184.7 464.5,199 465.6,215.2Z" fill="#28ae80" fill-rule="evenodd"/>
<path d="M467.4,215.2 467.7,215.2 467.7,28.5 281.6,28.5 281.6,28.8 300.8,30.3 317,31.8 328.1,33.1 338.1,34.5 348,36 357.3,37.8 365.3,39.7 373.4,41.9 381.5,44.5 388.9,47.4 395.7,50.5 402.4,54 408.4,57.7 411.2,59.7 414.4,62 417.5,64.4 419.9,66.5 422.6,69 425.2,71.4 429.9,76.5 434.4,82 436.6,85.1 438.7,88.2 442.5,94.5 444.2,97.6 446.1,101.3 449.1,108.2 452,115.6 454.4,123.1 456.6,131.2 458.5,139.9 460.3,149.2 461.9,159.8 463.4,171 464.8,184.1 466.1,198.4 467.4,215.2Z" fill="#2ab07f" fill-rule="evenodd"/>
<path d="M467.7,197.8 467.7,28.5 299,28.5 313.9,30 325.6,31.4 336.2,32.8 346.1,34.4 355.4,36.2 363.5,38 370.9,39.9 378.4,42.2 385.2,44.7 392,47.5 398.2,50.5 404.6,54 410.6,57.9 416.2,62 421.2,66.1 426.1,70.8 430.7,75.8 434.8,80.8 438.8,86.4 442.3,92 445.8,98.2 448.8,104.4 451.6,111.3 454.2,118.7 456.5,126.2 458.4,133.7 460.2,141.8 461.9,151.1 463.5,161.1 464.9,171.6 466.3,184.1 467.7,197.8Z" fill="#2eb37c" fill-rule="evenodd"/>
<path d="M467.7,182.8 467.7,28.5 313.9,28.5 326.9,30.2 336.2,31.5 345.5,33 354.2,34.7 362.2,36.5 369.7,38.4 376.5,40.4 383.3,42.7 389.5,45.2 395.7,48 401.3,50.9 406.9,54.1 412.4,57.7 417.5,61.6 422.4,65.8 426.8,69.9 431.1,74.6 435.2,79.5 438.9,84.5 442.3,89.7 445.4,95.1 448.6,101.3 451.3,107.5 453.7,113.8 456,120.6 458,127.5 459.9,134.9 461.7,143 463.3,151.7 464.8,161.1 466.3,171.6 467.7,182.8Z" fill="#31b57b" fill-rule="evenodd"/>
<path d="M467.7,171.6 467.7,28.5 325,28.5 335.6,30.1 344.3,31.5 352.3,33 359.8,34.6 367.2,36.5 374,38.4 380.2,40.4 386.4,42.7 392.6,45.3 398.2,48 403.8,51 408.8,54 413.7,57.4 418.7,61.1 423,64.8 427.4,69 431.5,73.3 435.2,77.7 438.9,82.6 442.3,87.6 445.3,92.6 448.3,98.2 450.9,103.8 453.5,110 455.8,116.2 457.8,122.5 459.7,129.3 461.6,136.8 463.2,144.3 464.8,153 466.2,161.7 467.7,171.6Z" fill="#35b779" fill-rule="evenodd"/>
<path d="M467.7,162.3 467.7,28.5 334.3,28.5 343.6,30.1 351.7,31.6 359.1,33.2 366,34.9 372.2,36.6 378.4,38.6 384.6,40.8 390.2,43 395.7,45.5 400.7,48 405.7,50.8 410.8,54 415.6,57.3 419.9,60.7 424.3,64.5 428.3,68.3 431.8,72.1 435.6,76.4 439.2,81.1 442.4,85.8 445.5,90.7 448.3,95.7 450.8,100.7 453.3,106.3 455.5,111.9 457.7,118.1 459.6,124.3 461.3,130.6 463.1,138 464.7,145.5 466.2,153.6 467.7,162.3Z" fill="#38b977" fill-rule="evenodd"/>
<path d="M467.6,154.2 467.7,28.5 342.4,28.5 342.1,28.5 350.5,30.1 357.9,31.7 364.7,33.4 370.9,35 377.1,36.9 382.7,38.9 388.3,41 393.3,43.1 398.2,45.5 403.2,48.1 408.1,51 412.8,54 417.2,57.1 421.2,60.3 425.4,64 429.2,67.7 432.8,71.4 436.1,75.3 439.4,79.5 442.5,83.9 445.4,88.4 448.2,93.2 450.8,98.2 453.1,103.2 455.3,108.2 457.4,113.8 459.3,119.4 461.2,125.6 462.9,131.8 464.5,138.7 466.1,146.1 467.6,154.2Z" fill="#3dbc74" fill-rule="evenodd"/>
<path d="M467.6,147.4 467.7,147.7 467.7,28.5 349.2,28.5 348.8,28.5 356.7,30.2 363.5,31.8 369.7,33.5 375.3,35.1 380.9,37 386.4,39 391.4,41 396.4,43.3 401.3,45.8 405.7,48.2 410,50.8 414.4,53.7 418.7,56.9 422.4,59.9 426.1,63.2 429.9,66.7 433.1,70.2 436.7,74.3 439.9,78.3 442.9,82.5 445.8,87 448.4,91.4 450.8,95.7 453.3,100.7 455.5,105.7 457.5,110.6 459.5,116.2 461.3,121.8 462.9,127.5 464.6,133.7 466.2,140.5 467.6,147.4Z" fill="#40bd72" fill-rule="evenodd"/>
<path d="M467.6,141.1 467.7,141.7 467.7,28.5 355.4,28.5 354.8,28.5 362.2,30.3 369.1,32.1 374.6,33.7 379.6,35.3 384.6,37.1 389.5,39 394.5,41.2 398.8,43.2 403.2,45.5 407.5,48 411.9,50.7 415.8,53.4 419.9,56.5 423.7,59.5 427.3,62.7 430.5,65.8 433.6,69 436.8,72.7 439.8,76.4 442.9,80.5 445.6,84.5 448.3,88.9 450.8,93.2 453,97.6 455.1,101.9 457.2,106.9 459.1,111.9 461.1,117.5 462.9,123.1 464.5,128.7 466.1,134.9 467.6,141.1Z" fill="#46c06f" fill-rule="evenodd"/>
<path d="M467.7,136.2 467.7,28.5 360.4,28.5 367.8,30.5 372.8,31.9 377.8,33.5 382.7,35.2 387.7,37 392.6,39.1 397,41.1 401.3,43.2 405.7,45.6 409.4,47.8 413.7,50.6 417.5,53.2 421.2,56 424.8,59 428.3,62.1 431.5,65.2 434.8,68.7 437.7,72.1 440.8,75.8 443.6,79.5 446.1,83.3 448.9,87.6 451,91.4 453.3,95.7 455.5,100.1 457.4,104.4 459.4,109.4 461.3,114.4 463,119.4 464.7,125 466.2,130.6 467.7,136.2Z" fill="#4cc26c" fill-rule="evenodd"/>
<path d="M467.6,131.2 467.7,131.5 467.7,28.5 365.3,28.5 365.1,28.5 370.9,30.1 376.5,31.8 381.5,33.5 385.8,35.1 390.2,36.8 394.5,38.7 398.8,40.7 403.2,42.9 407.5,45.3 411.2,47.6 415,50 418.7,52.7 422.4,55.6 425.8,58.4 429.2,61.5 432.3,64.5 435.4,67.7 438.2,70.8 441,74.3 443.6,77.7 446.2,81.4 448.7,85.1 451,88.9 453.3,93.2 455.5,97.6 457.6,101.9 459.4,106.3 461.1,110.6 462.9,115.6 464.6,120.6 466.1,125.6 467.6,131.2Z" fill="#50c46a" fill-rule="evenodd"/>
<path d="M467.7,126.8 467.7,28.5 369.7,28.5 380.2,31.8 388.9,35.1 393.3,36.9 397.6,38.8 401.3,40.7 405.4,42.8 409.4,45.1 413.1,47.5 416.4,49.7 419.9,52.2 423.7,55.1 426.8,57.7 429.9,60.5 433,63.5 435.8,66.5 438.6,69.6 441.6,73.3 444.1,76.5 446.7,80.2 449.2,83.9 451.5,87.6 453.6,91.4 455.6,95.1 457.7,99.4 459.4,103.2 461.2,107.5 462.8,111.9 464.6,116.9 466.2,121.8 467.7,126.8Z" fill="#56c667" fill-rule="evenodd"/>
<path d="M467.6,122.5 467.7,122.8 467.7,28.5 374,28.5 373.7,28.5 379,30.2 384,31.9 392,35.1 396.4,37 400.1,38.8 403.8,40.7 407.5,42.7 410.8,44.7 414.4,46.9 418.1,49.5 421.2,51.7 424.3,54.2 427.8,57.1 430.5,59.6 433.8,62.7 436.7,65.8 439.5,69 442.1,72.1 444.5,75.2 446.8,78.3 449.3,82 451.6,85.6 453.5,88.9 455.6,92.6 457.5,96.3 459.2,100.1 461.1,104.4 462.9,108.8 464.5,113.1 467.6,122.5Z" fill="#5ac864" fill-rule="evenodd"/>
<path d="M467.7,118.7 467.7,28.5 377.8,28.5 386.5,31.6 394.5,34.9 401.9,38.4 405.7,40.4 409.4,42.5 413,44.7 416.2,46.8 419.4,49 422.8,51.5 425.9,54 428.8,56.5 431.7,59.2 434.7,62.1 437.3,64.8 439.9,67.7 442.6,70.8 445,73.9 449.5,80.2 451.6,83.4 453.8,87 455.9,90.7 457.8,94.5 461.3,101.9 464.6,110 467.7,118.7Z" fill="#60ca60" fill-rule="evenodd"/>
<path d="M467.6,115 467.7,28.5 381.5,28.5 390.2,31.8 397.6,35 404.4,38.4 411.2,42.3 417.5,46.3 420.6,48.5 423.8,50.9 426.9,53.4 429.9,55.9 432.5,58.4 435.4,61.2 440.4,66.5 443,69.6 445.4,72.5 447.8,75.8 450,78.9 454,85.1 457.8,92 461.5,99.4 464.6,106.9 467.6,115Z" fill="#65cb5e" fill-rule="evenodd"/>
<path d="M467.6,111.3 467.7,111.7 467.7,28.5 385.2,28.5 384.8,28.5 393.3,31.8 400.7,35.2 406.9,38.5 413.3,42.2 419.3,46.2 425.5,50.8 430.8,55.3 436.1,60.2 441.3,65.8 446,71.4 450.1,77 454.2,83.3 457.8,89.5 461.3,96.3 464.6,103.8 467.6,111.3Z" fill="#6ccd5a" fill-rule="evenodd"/>
<path d="M467.6,108.2 467.7,108.4 467.7,28.5 388.3,28.5 388.1,28.5 396.4,31.9 402.6,34.9 408.8,38.2 415,41.9 420.9,45.9 426.7,50.3 431.8,54.6 437,59.6 441.7,64.6 446.4,70.2 450.6,75.8 454.4,81.4 458.1,87.6 461.3,93.8 464.5,100.7 467.6,108.2Z" fill="#70cf57" fill-rule="evenodd"/>
<path d="M467.6,105 467.7,28.5 391.4,28.5 398.8,31.8 405,34.8 411.2,38.3 416.8,41.7 422.4,45.6 428,49.9 433,54.1 437.9,58.9 442.7,64 446.9,69 451,74.3 454.7,79.8 458.3,85.8 461.7,92 464.7,98.2 467.6,105Z" fill="#77d153" fill-rule="evenodd"/>
<path d="M467.6,101.9 467.7,102.1 467.7,28.5 394.5,28.5 394.3,28.5 401.9,32 407.5,34.9 413.1,38 418.7,41.6 424.3,45.5 429.2,49.4 433.8,53.4 438.5,57.9 443.1,62.7 447.4,67.7 451.2,72.7 455.1,78.3 458.6,83.9 461.7,89.5 464.8,95.7 467.6,101.9Z" fill="#7fd34e" fill-rule="evenodd"/>
<path d="M467.5,98.8 467.7,99.2 467.7,28.5 397.6,28.5 397.2,28.5 403.8,31.6 410,34.9 415.6,38.2 420.6,41.4 425.5,45 430.5,49 434.9,52.8 439.4,57.1 443.5,61.5 447.8,66.5 451.7,71.4 455.2,76.4 458.4,81.4 461.7,87 464.6,92.6 467.5,98.8Z" fill="#84d44b" fill-rule="evenodd"/>
<path d="M467.7,96.3 467.7,28.5 400.1,28.5 406.3,31.6 411.2,34.3 416.8,37.6 421.8,40.9 426.8,44.5 431.6,48.4 436.1,52.3 440.4,56.5 444.5,60.9 448.5,65.4 452.2,70.2 455.8,75.2 459,80.2 461.9,85.1 465,90.7 467.7,96.3Z" fill="#8bd646" fill-rule="evenodd"/>
<path d="M467.5,93.2 467.7,93.7 467.7,28.5 403.2,28.5 402.7,28.5 408.8,31.6 415,35.1 419.3,37.8 423.9,40.9 428.6,44.5 432.7,47.8 436.9,51.5 441,55.5 444.7,59.4 448.5,63.6 452.2,68.3 455.4,72.7 458.8,77.7 461.8,82.6 464.6,87.6 467.5,93.2Z" fill="#90d743" fill-rule="evenodd"/>
<path d="M467.6,90.7 467.7,91 467.7,28.5 405.7,28.5 405.4,28.5 411.2,31.6 416.6,34.7 421.2,37.7 425.5,40.7 429.9,44 433.7,47.2 437.9,50.9 441.8,54.6 445.4,58.4 449.2,62.7 452.7,67.1 456,71.4 459,75.9 462.1,80.8 464.9,85.8 467.6,90.7Z" fill="#98d83e" fill-rule="evenodd"/>
<path d="M467.6,88.2 467.7,88.4 467.7,28.5 408.1,28.5 408,28.5 413.1,31.3 418.1,34.3 422.4,37.1 426.8,40.2 431,43.4 434.8,46.6 439,50.3 442.8,54 446.6,58 450.2,62.1 453.4,66.1 456.5,70.2 459.5,74.6 462.3,78.9 464.9,83.3 467.6,88.2Z" fill="#9dd93b" fill-rule="evenodd"/>
<path d="M467.6,85.8 467.7,85.9 467.7,28.5 410.6,28.5 410.5,28.5 415.6,31.4 420,34.1 424.3,37 428.1,39.7 432.1,42.8 436.1,46.1 439.8,49.5 443.5,53.1 446.8,56.5 450.3,60.5 453.4,64.2 456.6,68.3 459.7,72.7 462.5,77 465.2,81.4 467.6,85.8Z" fill="#a5db36" fill-rule="evenodd"/>
<path d="M467.6,83.3 467.7,83.5 467.7,28.5 413.1,28.5 412.9,28.5 417.5,31.2 422.4,34.3 426.1,36.8 429.9,39.6 433.6,42.5 437.3,45.6 441,49 444.2,52.1 447.8,55.9 451,59.4 454.1,63.1 457.1,67.1 459.8,70.8 462.7,75.2 465.2,79.2 467.6,83.3Z" fill="#addc30" fill-rule="evenodd"/>
<path d="M467.5,80.8 467.7,81.1 467.7,28.5 415.6,28.5 415.3,28.5 419.9,31.3 424.9,34.6 428.6,37.2 431.7,39.5 435.4,42.5 438.7,45.3 442.1,48.4 445.3,51.5 448.5,54.9 451.6,58.3 454.2,61.5 457.2,65.2 459.9,69 462.5,72.7 464.9,76.4 467.5,80.8Z" fill="#b2dd2d" fill-rule="evenodd"/>
<path d="M467.4,78.3 467.7,78.8 467.7,28.5 418.1,28.5 417.6,28.5 421.8,31.1 425.5,33.6 429.8,36.6 433.6,39.5 439.8,44.7 442.9,47.6 446,50.6 449.1,53.8 452.1,57.1 454.7,60.2 457.7,64 460.3,67.4 462.7,70.8 465.1,74.6 467.4,78.3Z" fill="#bade28" fill-rule="evenodd"/>
<path d="M467.7,76.4 467.7,28.5 419.9,28.5 427.4,33.4 430.9,36 434.2,38.5 440.4,43.7 443.5,46.5 446.7,49.7 449.7,52.8 452.6,55.9 457.8,62.1 460.3,65.4 462.8,69 465.3,72.7 467.7,76.4Z" fill="#c0df25" fill-rule="evenodd"/>
<path d="M467.5,73.9 467.7,74.2 467.7,28.5 422.4,28.5 422.1,28.5 426.1,31.1 430.5,34.2 436.1,38.5 441.9,43.4 447.8,49 453,54.6 458.3,60.9 462.9,67.1 467.5,73.9Z" fill="#c8e020" fill-rule="evenodd"/>
<path d="M467.3,71.4 467.7,72 467.7,28.5 424.9,28.5 424.3,28.5 428,30.9 431.7,33.6 435.4,36.5 438.5,39 443.6,43.4 448.8,48.4 454.1,54 458.8,59.6 463.1,65.2 467.3,71.4Z" fill="#cde11d" fill-rule="evenodd"/>
<path d="M467.5,69.6 467.7,69.8 467.7,28.5 426.8,28.5 426.5,28.5 433,33 439,37.8 444.1,42.3 449.2,47.2 454.1,52.2 458.8,57.7 463.4,63.6 467.5,69.6Z" fill="#d5e21a" fill-rule="evenodd"/>
<path d="M467.3,67.1 467.7,67.7 467.7,28.5 429.2,28.5 428.7,28.5 435.4,33.4 441.6,38.5 446,42.4 450.3,46.6 455,51.5 459.3,56.5 463.4,61.6 467.3,67.1Z" fill="#dae319" fill-rule="evenodd"/>
<path d="M467.5,65.2 467.7,65.6 467.7,28.5 431.1,28.5 430.8,28.5 436.7,32.9 442.3,37.4 446.9,41.6 451.4,45.9 455.5,50.3 459.8,55.3 463.8,60.2 467.5,65.2Z" fill="#e2e418" fill-rule="evenodd"/>
<path d="M467.6,63.4 467.7,63.5 467.7,28.5 433,28.5 432.8,28.5 438.6,32.9 443.1,36.6 447.3,40.3 451.8,44.7 456,49 460.3,53.9 464,58.5 467.6,63.4Z" fill="#eae51a" fill-rule="evenodd"/>
<path d="M467.3,60.9 467.7,61.4 467.7,28.5 435.4,28.5 434.9,28.5 439.7,32.2 444.2,36 449.1,40.3 453.4,44.6 457.2,48.5 460.9,52.8 464,56.5 467.3,60.9Z" fill="#efe51c" fill-rule="evenodd"/>
<path d="M467.4,59 467.7,59.4 467.7,28.5 437.3,28.5 436.9,28.5 442.3,32.7 447.2,37 450.8,40.3 454,43.4 457.5,47.2 460.9,50.9 464,54.6 467.4,59Z" fill="#f6e620" fill-rule="evenodd"/>
<path d="M467.5,57.1 467.7,57.4 467.7,28.5 439.2,28.5 438.9,28.5 443.5,32.2 447.9,36 451.3,39.1 454.7,42.4 458,45.9 461.4,49.7 464.5,53.4 467.5,57.1Z" fill="#fbe723" fill-rule="evenodd"/>
<path d="M467.6,55.3 467.7,55.4 467.7,28.5 441,28.5 440.9,28.5 444.7,31.6 449,35.3 455.3,41.3 458.4,44.5 461.5,47.9 464.6,51.5 467.6,55.3Z" fill="#ffffff" fill-rule="evenodd"/>
<path d="M288.1,172.8 297.5,164.2 306.6,156.1 315.7,148.5 324.4,141.7 333.1,135.3 340.5,130.4 344.3,128.1 347.4,126.4 350.5,124.8 352.9,123.8 354.8,123.2 356,123 356.7,123.2 357.2,123.7 357.4,124.3 358.4,128.7 359.3,131.2 360,132.4 360.9,133.7 361.6,134.5 362.9,135.7 364.7,136.9 366.6,137.8 368.4,138.4 372.2,139.1 372.8,139.4 373.3,139.9 373.5,140.5 373.4,141.1 373.2,142.4 372.8,143.6 371.4,146.7 369.1,151.1 366.5,155.5 363.3,160.4 359.9,165.4 356.3,170.4 352.5,175.4 348.1,181 343.5,186.6 338.7,192.3 333.7,197.9 328.1,204.1 317.5,215.2M380.2,132 379.8,131.8 379.6,131.5 379.5,131.2 379.5,129.9 379.5,126.8 379.4,125 379.2,123.7 378.7,121.8 378,120.6 377.1,119.5 375.9,118.5 375,118M364.5,116.3 364.7,115.6 365.2,115 365.9,114.4 366.7,113.8 367.8,113.1 369.7,112.5 372.2,112 374,112.1 375.3,112.3 376.5,112.6 377.8,113.1 379,113.7 380.9,115.1 382.3,116.9 383.4,118.7 383.9,120 384.2,121.2 384.4,122.5 384.5,123.7 384.4,125 384.2,126.2 384,127.1 383.3,128.7 382.7,129.8 382.1,130.7 381.5,131.3 380.9,131.8 380.2,132M289.1,143 300,134.9 309.7,128.1 318.9,121.8 326.8,116.9 334.3,112.5 340.3,109.4 343.6,107.8 346.7,106.5 352.3,104.5 354.8,103.7 357.9,103 360.4,102.5 362.9,102.2 365.3,102.1 367.8,102.1 370.3,102.2 372.8,102.6 375.3,103.2 377.1,103.8 379.6,104.8 381.5,105.8 383.3,106.9 385.2,108.4 386.9,110 388.3,111.5 389.5,113.1 390.7,115 391.7,116.9 392.6,119.3 393.3,121.2 393.8,123.7 394.1,125.6 394.3,128.1 394.4,130.6 394.3,133.1 394,135.5 393.6,138 393,140.5 392.2,143.6 391.4,146.1 390.2,149.2 387.7,155.1 384.6,161.2 380.9,167.8 375.9,175.8 370.3,184.3 363.5,194.1 356,204.4 347.9,215.2M290.1,121 300.8,115 310.3,110 318.8,105.9 326.5,102.6 333.7,99.8 340.5,97.6 344.3,96.5 347.4,95.8 350.5,95.2 353.6,94.7 356.7,94.4 359.8,94.2 362.9,94.1 365.3,94.2 368.4,94.5 370.9,94.9 373.4,95.4 375.9,96.1 378.4,96.9 380.9,97.9 383.3,99.2 385.2,100.3 387.1,101.6 389.1,103.2 391.2,105 392.9,106.9 394.4,108.8 395.7,110.6 397,112.7 398.2,115 399.3,117.5 400.2,120 400.9,122.5 401.4,125 401.8,127.5 402.2,130.6 402.3,133.1 402.3,136.2 402.1,139.3 401.8,142.4 401.3,145.5 400.7,148.6 399.2,154.8 397,162 394.3,169.1 390.8,177.3 387.1,185.1 382.1,194.8 376.5,204.9 370.6,215.2M291,104 300.4,100.1 310.3,96.3 319.4,93.2 327.5,90.8 334.9,89 342.4,87.6 349.2,86.7 352.9,86.5 356,86.4 359.1,86.4 362.2,86.5 365.3,86.8 368.4,87.3 371.5,87.8 374,88.4 377.1,89.4 379.6,90.3 382.1,91.3 384.6,92.5 387.1,93.9 389.5,95.5 392,97.4 393.9,98.9 395.7,100.7 397.6,102.7 399.5,104.9 400.9,106.9 402.1,108.8 403.6,111.3 404.8,113.8 405.9,116.2 406.8,118.7 407.8,121.8 408.4,124.3 409,127.5 409.5,130.6 409.8,133.7 410,136.8 410,139.9 409.9,143 409.7,146.7 408.9,153.6 407.5,161 405.7,168.7 403.4,176.6 400.5,185.3 397,194.7 393.3,203.9 388.4,215.2M290.5,90.2 301.2,87 310.8,84.5 320.1,82.3 328.7,80.7 336.8,79.5 344.3,78.8 351.7,78.6 358.5,78.8 362.2,79.2 365.3,79.6 368.4,80.1 371.5,80.8 374.6,81.6 377.8,82.5 380.9,83.7 383.3,84.7 385.8,85.9 388.3,87.2 390.8,88.7 393.3,90.4 395.4,92 397.6,93.8 400.1,96.2 402,98.2 403.8,100.3 405.6,102.6 407.3,105 408.8,107.5 410.2,110 411.4,112.5 412.5,115 413.6,118.1 414.4,120.6 415.3,123.7 416,126.8 416.6,129.9 417,133.1 417.4,136.8 417.8,143.6 417.7,147.4 417.6,151.1 417,158.6 415.9,166.7 414.4,174.7 412.5,183.6 410,193.3 406.9,204 403.4,215.2M290.7,77.7 301.5,75.5 312,73.6 321.9,72.2 330.6,71.3 338.7,70.8 346.7,70.7 354.2,71 357.9,71.3 361.6,71.8 365.3,72.4 368.4,73 372.2,73.8 375.3,74.7 378.4,75.7 381.5,76.8 384.6,78.1 387.1,79.3 389.9,80.8 392.6,82.4 395.1,84 397.6,85.7 400,87.6 402.2,89.5 404.4,91.6 406.6,93.8 408.2,95.7 410.2,98.2 412,100.7 413.7,103.3 415.5,106.3 416.8,108.8 418,111.3 419.3,114.4 420.4,117.5 421.5,120.6 422.3,123.7 423.1,126.8 423.7,129.9 424.4,133.7 424.9,137.4 425.2,141.1 425.6,148.6 425.6,156.1 425.1,164.8 424.3,173.4 423,182.8 421.3,192.8 419.2,203.4 416.6,215.2M292,66 303.6,64.6 314.5,63.5 324.4,62.9 333.7,62.6 342.4,62.7 350.5,63.1 357.9,63.9 365.3,65.2 372.2,66.7 375.9,67.8 379,68.8 382.1,70 385.2,71.2 388.3,72.6 391.4,74.2 394.2,75.8 397,77.5 399.5,79.2 401.9,81 404.4,83 406.8,85.1 408.8,87 411.2,89.5 413.3,92 415.3,94.5 417.2,97 418.8,99.4 420.6,102.2 422.1,105 424.8,110.6 426.1,113.8 427.3,116.9 428.3,120 429.4,123.7 431,130.6 432.3,138 433.1,145.5 433.6,153.6 433.7,162.3 433.5,171.6 432.9,181 431.9,191.6 430.5,202.8 428.8,215.2M292,55.2 304.6,54.5 315.7,54.2 326.3,54.1 335.6,54.4 344.3,54.9 352.9,55.8 361,57.1 368.4,58.6 372.2,59.6 375.9,60.7 379.6,61.9 382.7,63 388.9,65.7 392,67.2 395.1,68.8 398.2,70.7 400.7,72.3 403.8,74.4 406.3,76.3 408.8,78.3 411.2,80.6 415.6,84.9 418,87.6 419.9,90 423.7,95.1 425.5,98 427.1,100.7 428.8,103.8 430.4,106.9 433,113.1 434.2,116.2 435.4,120 437.4,126.8 439,134.3 440.3,142.4 441.2,150.5 441.8,159.2 442.2,168.5 442.2,178.5 441.9,189.7 441.2,202.1 440.3,215.2M292,44.8 305.2,44.9 317,45.1 328.1,45.7 338.1,46.4 347.4,47.5 356,48.8 364.1,50.4 371.5,52.2 379,54.5 385.8,57.1 389.5,58.7 392.6,60.1 398.7,63.4 404.4,66.9 407.3,69 410,71 415,75.2 417.5,77.7 420,80.2 424.3,85.1 426.3,87.6 428.5,90.7 432.1,96.3 433.9,99.4 435.6,102.6 438.5,108.8 441.1,115.6 443.5,123.1 445.5,130.6 447.1,138.7 448.5,147.4 449.6,156.1 450.4,166 451,176.6 451.3,188.4 451.4,200.9 451.3,215.2M292,34.6 306.4,35.5 319.4,36.5 330.6,37.6 341.2,38.9 350.5,40.3 359.1,42 367.2,43.8 375.3,46.1 382.7,48.6 386.4,50 390.2,51.6 393.9,53.3 397,54.9 403.2,58.4 406.3,60.3 409.4,62.4 414.8,66.5 419.9,70.9 424.8,75.8 429.2,80.8 433.5,86.4 437.2,92 440.8,98.2 442.4,101.3 444.1,105 447,111.9 449.6,119.4 451.8,126.8 453.8,134.9 455.5,143.6 457,153 458.3,162.9 459.5,174.1 460.4,186 461.3,199.6 462.1,215.2M325,28.5 328.3,29M339.1,30.6 347.4,32.1 355.4,33.7 362.2,35.2 369.1,37 375.3,38.8 381.5,40.9 387.7,43.2 393.3,45.6 398.8,48.3 403.8,51 408.8,54 413.7,57.4 418.3,60.9 422.8,64.6 426.8,68.4 430.9,72.7 434.7,77 438,81.4 441.1,85.8 444.2,90.7 447,95.7 449.8,101.3 452.3,106.9 454.5,112.5 456.4,118.1 458.4,124.3 460.2,131.2 461.9,138 463.4,145.5 464.9,153.6 466.3,162.3 467.7,171.7M365.1,28.5 365.7,28.7M376.2,31.7 380.9,33.3 385.2,34.8 389.5,36.5 393.9,38.4 398.2,40.4 401.9,42.3 405.7,44.3 409.4,46.5 413.1,48.8 416.2,50.9 419.6,53.4 423,56.1 426.1,58.7 429.2,61.5 432.3,64.5 435.4,67.7 438.2,70.8 440.7,73.9 443.1,77 445.8,80.8 448.3,84.5 450.5,88.2 452.7,92 454.6,95.7 456.4,99.4 458.4,103.8 460.2,108.2 461.8,112.5 463.4,116.9 465,121.8 467.7,131.5M388.1,28.5 395.7,31.7 402.7,34.9M412.3,40.2 417.3,43.4 421.8,46.5 426.1,49.8 430.4,53.4 434.5,57.1 438.3,60.9 441.7,64.6 445.4,68.9 448.8,73.3 451.9,77.7 454.7,82 457.7,87 460.4,92 462.9,97 465.4,102.6 467.7,108.4M405.4,28.5 412.4,32.2 418.7,36.1 424.9,40.3 431,44.9M439.2,52.1 443.5,56.4 447.6,60.9 451.6,65.6 455.1,70.2 458.6,75.2 461.7,80.2 464.9,85.8 467.7,91M428.3,34.1 434.2,38.5 439.8,43.1 445.4,48.3 450.3,53.4 455.2,59 459.6,64.6 463.7,70.2 467.7,76.5M441,34.8 444.7,38 448.5,41.4 451.8,44.7 455.3,48.3 458.8,52.1 461.9,55.9 464.8,59.6 467.7,63.5M444.8,28.5 448.5,31.6 452.2,34.9 455.9,38.5 459,41.7M466.3,49.8 467.7,51.5M456.1,28.5 456.3,28.6M464.1,36.2 467.7,40.1" fill="none" stroke="#000" stroke-width="1.2" stroke-linejoin="round"/>
<g font-family="'Liberation Serif','Times New Roman',serif" font-size="6.5" fill="#000" text-anchor="middle">
<text transform="translate(284.2,176.6) rotate(-44.1)" y="2.1">0.3</text>
<text transform="translate(369.6,115.9) rotate(0.0)" y="2.1">0.3</text>
<text transform="translate(284.7,146.3) rotate(-37.1)" y="2.1">0.6</text>
<text transform="translate(285.3,123.7) rotate(-30.2)" y="2.1">0.9</text>
<text transform="translate(285.9,106.1) rotate(-23.6)" y="2.1">1.2</text>
<text transform="translate(285.3,91.8) rotate(-17.8)" y="2.1">1.5</text>
<text transform="translate(285.3,78.9) rotate(-12.8)" y="2.1">1.8</text>
<text transform="translate(286.6,66.8) rotate(-8.3)" y="2.1">2.1</text>
<text transform="translate(286.6,55.6) rotate(-4.3)" y="2.1">2.4</text>
<text transform="translate(286.6,44.9) rotate(-0.7)" y="2.1">2.7</text>
<text transform="translate(286.6,34.4) rotate(2.7)" y="2.1">3.0</text>
<text transform="translate(333.7,29.8) rotate(8.7)" y="2.1">3.3</text>
<text transform="translate(370.9,30.1) rotate(16.3)" y="2.1">3.6</text>
<text transform="translate(407.5,37.5) rotate(28.9)" y="2.1">3.9</text>
<text transform="translate(435.2,48.4) rotate(41.2)" y="2.1">4.2</text>
<text transform="translate(423.8,31.0) rotate(33.5)" y="2.1">4.5</text>
<text transform="translate(436.7,31.4) rotate(37.7)" y="2.1">4.8</text>
<text transform="translate(462.7,45.7) rotate(48.1)" y="2.1">5.1</text>
<text transform="translate(460.3,32.4) rotate(44.3)" y="2.1">5.4</text>
</g>
<circle cx="375.8" cy="120.4" r="15.9" fill="none" stroke="#ffffff" stroke-width="1.1" stroke-dasharray="3.6 1.6"/>
<rect x="309.7" y="181.2" width="5.8" height="5.8" fill="#ffff00"/>
<circle cx="374.6" cy="121.8" r="2.8" fill="#ff0000"/>
</g>
<path d="M375.4,87H377V95H378.9L376.2,100.4L373.5,95H375.4Z" fill="#ffffff"/>
<rect x="339.8" y="66.5" width="72" height="16.2" fill="#ffffff" stroke="#555" stroke-width="0.6"/>
<text x="375.7" y="77.8" text-anchor="middle" font-family="'Liberation Serif','Times New Roman',serif" font-size="9.7">Local minimum</text>
<path d="M340.2,183.35V184.85H326.8V186.7L321.5,184.1L326.8,181.5V183.35Z" fill="#ffff00"/>
<rect x="348.6" y="175.2" width="79" height="17" fill="#ffffff" stroke="#f2f200" stroke-width="1"/>
<text x="387.6" y="187.3" text-anchor="middle" font-family="'Liberation Serif','Times New Roman',serif" font-size="9.7">Global minimum</text>
<path d="M281.60,215.2v2M343.63,215.2v2M405.67,215.2v2M467.70,215.2v2M281.6,215.20h-2M281.6,184.08h-2M281.6,152.97h-2M281.6,121.85h-2M281.6,90.73h-2M281.6,59.62h-2M281.6,28.50h-2" stroke="#222" stroke-width="0.6" fill="none"/>
<rect x="281.6" y="28.5" width="186.1" height="186.7" fill="none" stroke="#222" stroke-width="0.7"/>
<g font-family="'Liberation Serif','Times New Roman',serif" font-size="10.6" fill="#000">
<text x="281.6" y="227.6" text-anchor="middle">−3</text>
<text x="343.6" y="227.6" text-anchor="middle">−2</text>
<text x="405.7" y="227.6" text-anchor="middle">−1</text>
<text x="467.7" y="227.6" text-anchor="middle">0</text>
<text x="276.6" y="219.4" text-anchor="end">−3.0</text>
<text x="276.6" y="188.3" text-anchor="end">−2.5</text>
<text x="276.6" y="157.2" text-anchor="end">−2.0</text>
<text x="276.6" y="126.0" text-anchor="end">−1.5</text>
<text x="276.6" y="94.9" text-anchor="end">−1.0</text>
<text x="276.6" y="63.8" text-anchor="end">−0.5</text>
<text x="276.6" y="32.7" text-anchor="end">0.0</text>
</g>
<text x="374.6" y="240.7" text-anchor="middle" font-family="'Liberation Serif','Times New Roman',serif" font-size="10.8">x(m)</text>
<text transform="translate(250.6,122.8) rotate(-90)" text-anchor="middle" font-family="'Liberation Serif','Times New Roman',serif" font-size="11.3">y(m)</text>
<text x="374.8" y="24.7" text-anchor="middle" font-family="'Liberation Serif','Times New Roman',serif" font-size="11.1">Loss Map</text>
<defs><linearGradient id="cb" x1="0" y1="0" x2="0" y2="1"><stop offset="0.00" stop-color="#fde725"/><stop offset="0.05" stop-color="#dfe318"/><stop offset="0.10" stop-color="#bddf26"/><stop offset="0.15" stop-color="#9bd93c"/><stop offset="0.20" stop-color="#7ad151"/><stop offset="0.25" stop-color="#5ec962"/><stop offset="0.30" stop-color="#44bf70"/><stop offset="0.35" stop-color="#2fb47c"/><stop offset="0.40" stop-color="#22a884"/><stop offset="0.45" stop-color="#1e9c89"/><stop offset="0.50" stop-color="#21918c"/><stop offset="0.55" stop-color="#25848e"/><stop offset="0.60" stop-color="#2a788e"/><stop offset="0.65" stop-color="#2f6c8e"/><stop offset="0.70" stop-color="#355f8d"/><stop offset="0.75" stop-color="#3b528b"/><stop offset="0.80" stop-color="#414487"/><stop offset="0.85" stop-color="#463480"/><stop offset="0.90" stop-color="#482475"/><stop offset="0.95" stop-color="#471365"/><stop offset="1.00" stop-color="#440154"/></linearGradient></defs>
<rect x="480.3" y="28.5" width="9.8" height="186.7" fill="url(#cb)" stroke="#333" stroke-width="0.35"/>
<text x="494.6" y="218.7" font-family="'Liberation Serif','Times New Roman',serif" font-size="10.6">0</text>
<text x="494.6" y="144.0" font-family="'Liberation Serif','Times New Roman',serif" font-size="10.6">2</text>
<text x="494.6" y="69.3" font-family="'Liberation Serif','Times New Roman',serif" font-size="10.6">4</text>
<path d="M490.1,215.20h2M490.1,140.52h2M490.1,65.84h2" stroke="#222" stroke-width="0.6" fill="none"/>
<text transform="translate(510.6,122) rotate(-90)" text-anchor="middle" font-family="'Liberation Serif','Times New Roman',serif" font-size="11.3">Loss(m)</text>
<rect x="438.8" y="2.8" width="107.2" height="24.5" rx="2" ry="2" fill="#ffffff" fill-opacity="0.8" stroke="#cccccc" stroke-width="0.7"/>
<rect x="447.4" y="7.8" width="6" height="6" fill="#ffff00"/>
<circle cx="450.4" cy="22.9" r="2.9" fill="#ff0000"/>
<g font-family="'Liberation Serif','Times New Roman',serif" font-size="7.75" fill="#000" class="lg">
<text x="463.9" y="13.4">Test point(−2.50, −2.50)</text>
<text x="463.9" y="25.7">Anchor 1</text>
</g>
</g>
<text x="118.1" y="260.2" text-anchor="middle" font-family="'Liberation Serif','Times New Roman',serif" font-weight="bold" font-size="11.3" style="stroke:none">(a)</text>
<text x="394.4" y="260.2" text-anchor="middle" font-family="'Liberation Serif','Times New Roman',serif" font-weight="bold" font-size="11.8" style="stroke:none">(b)</text>
</svg>
</body></html>
